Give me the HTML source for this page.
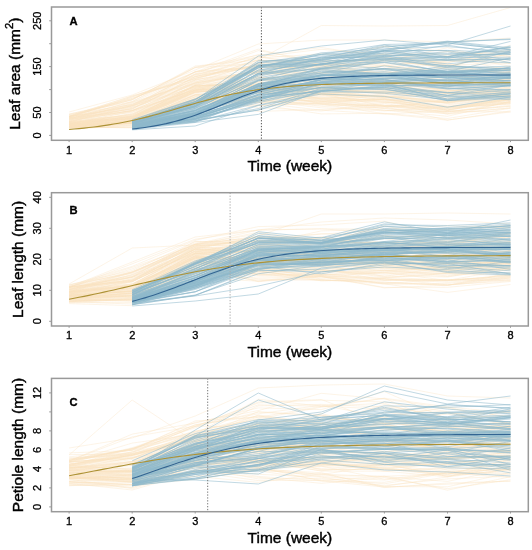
<!DOCTYPE html>
<html><head><meta charset="utf-8"><style>
html,body{margin:0;padding:0;background:#fff;}
svg{display:block;font-family:"Liberation Sans", sans-serif;will-change:transform;}
.t{stroke:#000;stroke-width:0.32px;}
.T{stroke:#000;stroke-width:0.42px;}
</style></head><body>
<svg width="532" height="550" viewBox="0 0 532 550" font-family='"Liberation Sans", sans-serif' fill="#000">
<g fill="none" stroke="rgb(251,225,192)" stroke-opacity="0.42" stroke-width="0.9">
<polyline points="69.1,127.8 132.2,122.8 195.2,96.6 258.3,105.6 321.3,103.5 384.4,99.2 447.5,113.4 510.5,107.9"/>
<polyline points="69.1,125.6 132.2,122.8 195.2,101.3 258.3,96.2 321.3,100.8 384.4,98.6 447.5,110.0 510.5,101.2"/>
<polyline points="69.1,127.4 132.2,122.6 195.2,99.4 258.3,101.9 321.3,94.7 384.4,102.3 447.5,110.0 510.5,96.3"/>
<polyline points="69.1,124.7 132.2,118.8 195.2,91.2 258.3,81.8 321.3,93.0 384.4,91.1 447.5,90.2 510.5,95.7"/>
<polyline points="69.1,124.1 132.2,116.8 195.2,86.0 258.3,83.5 321.3,90.3 384.4,91.4 447.5,91.6 510.5,92.5"/>
<polyline points="69.1,126.8 132.2,123.2 195.2,101.0 258.3,102.6 321.3,99.7 384.4,106.3 447.5,108.3 510.5,98.8"/>
<polyline points="69.1,124.1 132.2,111.1 195.2,90.1 258.3,84.0 321.3,86.5 384.4,80.4 447.5,91.8 510.5,79.3"/>
<polyline points="69.1,125.0 132.2,120.2 195.2,92.7 258.3,85.5 321.3,93.7 384.4,99.9 447.5,102.8 510.5,92.5"/>
<polyline points="69.1,121.5 132.2,117.5 195.2,88.3 258.3,77.8 321.3,82.2 384.4,89.1 447.5,82.1 510.5,87.0"/>
<polyline points="69.1,125.7 132.2,122.5 195.2,98.9 258.3,91.2 321.3,100.2 384.4,99.3 447.5,102.7 510.5,98.0"/>
<polyline points="69.1,125.7 132.2,120.5 195.2,99.0 258.3,93.1 321.3,99.0 384.4,105.5 447.5,104.8 510.5,99.1"/>
<polyline points="69.1,126.7 132.2,122.1 195.2,97.4 258.3,90.1 321.3,94.8 384.4,96.8 447.5,100.7 510.5,101.0"/>
<polyline points="69.1,118.9 132.2,104.0 195.2,80.3 258.3,65.2 321.3,77.8 384.4,68.1 447.5,72.2 510.5,69.9"/>
<polyline points="69.1,127.1 132.2,127.8 195.2,102.3 258.3,100.2 321.3,104.1 384.4,113.7 447.5,120.2 510.5,110.9"/>
<polyline points="69.1,122.7 132.2,117.5 195.2,88.4 258.3,79.0 321.3,87.5 384.4,94.1 447.5,93.1 510.5,88.0"/>
<polyline points="69.1,126.6 132.2,123.0 195.2,99.1 258.3,107.6 321.3,111.0 384.4,103.3 447.5,114.2 510.5,107.9"/>
<polyline points="69.1,116.2 132.2,98.1 195.2,76.3 258.3,64.7 321.3,58.7 384.4,46.3 447.5,51.3 510.5,55.8"/>
<polyline points="69.1,122.5 132.2,116.7 195.2,90.1 258.3,77.2 321.3,87.6 384.4,88.7 447.5,88.5 510.5,84.5"/>
<polyline points="69.1,125.8 132.2,120.8 195.2,96.8 258.3,96.5 321.3,97.4 384.4,101.1 447.5,108.4 510.5,103.7"/>
<polyline points="69.1,126.1 132.2,123.3 195.2,100.7 258.3,98.9 321.3,101.5 384.4,106.4 447.5,111.7 510.5,105.3"/>
<polyline points="69.1,116.5 132.2,107.4 195.2,74.7 258.3,67.9 321.3,67.0 384.4,74.6 447.5,57.4 510.5,70.3"/>
<polyline points="69.1,125.2 132.2,119.0 195.2,91.9 258.3,88.3 321.3,94.3 384.4,92.6 447.5,97.8 510.5,91.9"/>
<polyline points="69.1,124.0 132.2,118.4 195.2,91.1 258.3,85.3 321.3,88.3 384.4,89.7 447.5,92.3 510.5,95.7"/>
<polyline points="69.1,124.9 132.2,121.2 195.2,94.8 258.3,88.8 321.3,93.9 384.4,95.6 447.5,103.7 510.5,99.5"/>
<polyline points="69.1,121.7 132.2,115.0 195.2,85.7 258.3,81.3 321.3,72.6 384.4,84.8 447.5,76.1 510.5,81.2"/>
<polyline points="69.1,124.1 132.2,113.5 195.2,85.2 258.3,85.9 321.3,87.8 384.4,87.6 447.5,85.2 510.5,88.7"/>
<polyline points="69.1,127.1 132.2,122.9 195.2,103.7 258.3,99.0 321.3,106.3 384.4,110.2 447.5,116.3 510.5,101.2"/>
<polyline points="69.1,123.7 132.2,114.2 195.2,86.4 258.3,83.2 321.3,78.0 384.4,78.1 447.5,79.3 510.5,84.8"/>
<polyline points="69.1,122.0 132.2,114.0 195.2,85.0 258.3,73.1 321.3,87.2 384.4,88.7 447.5,85.8 510.5,78.6"/>
<polyline points="69.1,119.4 132.2,105.5 195.2,74.0 258.3,65.6 321.3,66.2 384.4,54.2 447.5,65.0 510.5,69.1"/>
<polyline points="69.1,116.3 132.2,106.7 195.2,71.9 258.3,67.7 321.3,66.7 384.4,63.2 447.5,64.9 510.5,63.6"/>
<polyline points="69.1,127.9 132.2,127.2 195.2,100.2 258.3,111.4 321.3,109.5 384.4,106.8 447.5,120.0 510.5,111.9"/>
<polyline points="69.1,122.1 132.2,105.6 195.2,87.0 258.3,79.7 321.3,69.4 384.4,85.0 447.5,74.5 510.5,82.4"/>
<polyline points="69.1,117.9 132.2,111.3 195.2,81.9 258.3,70.8 321.3,64.6 384.4,74.1 447.5,60.8 510.5,63.2"/>
<polyline points="69.1,116.1 132.2,95.9 195.2,79.0 258.3,60.0 321.3,65.7 384.4,60.1 447.5,51.7 510.5,56.6"/>
<polyline points="69.1,121.3 132.2,107.3 195.2,87.2 258.3,75.8 321.3,67.7 384.4,76.0 447.5,86.8 510.5,71.4"/>
<polyline points="69.1,120.1 132.2,108.7 195.2,79.4 258.3,71.8 321.3,75.1 384.4,79.6 447.5,87.0 510.5,77.6"/>
<polyline points="69.1,116.4 132.2,109.2 195.2,71.4 258.3,66.7 321.3,63.1 384.4,58.8 447.5,69.0 510.5,69.2"/>
<polyline points="69.1,118.0 132.2,105.0 195.2,77.8 258.3,65.8 321.3,73.0 384.4,68.9 447.5,76.2 510.5,80.8"/>
<polyline points="69.1,119.2 132.2,101.5 195.2,71.8 258.3,58.2 321.3,53.8 384.4,57.6 447.5,62.5 510.5,51.6"/>
<polyline points="69.1,123.2 132.2,114.6 195.2,90.5 258.3,84.4 321.3,86.3 384.4,79.0 447.5,91.5 510.5,84.4"/>
<polyline points="69.1,124.1 132.2,118.0 195.2,85.6 258.3,86.3 321.3,88.1 384.4,93.0 447.5,89.9 510.5,92.7"/>
<polyline points="69.1,117.8 132.2,102.5 195.2,73.9 258.3,50.6 321.3,61.3 384.4,60.8 447.5,66.5 510.5,53.4"/>
<polyline points="69.1,125.7 132.2,121.2 195.2,98.4 258.3,88.8 321.3,93.7 384.4,106.2 447.5,108.3 510.5,102.3"/>
<polyline points="69.1,121.2 132.2,110.5 195.2,89.2 258.3,76.3 321.3,87.9 384.4,77.3 447.5,82.2 510.5,83.4"/>
<polyline points="69.1,120.6 132.2,103.2 195.2,81.3 258.3,70.4 321.3,72.3 384.4,65.3 447.5,76.1 510.5,75.1"/>
<polyline points="69.1,124.6 132.2,118.8 195.2,92.2 258.3,86.8 321.3,90.6 384.4,96.6 447.5,94.1 510.5,90.2"/>
<polyline points="69.1,126.0 132.2,121.7 195.2,98.6 258.3,96.7 321.3,98.9 384.4,102.2 447.5,107.2 510.5,100.2"/>
<polyline points="69.1,122.4 132.2,112.0 195.2,89.4 258.3,81.8 321.3,86.3 384.4,83.2 447.5,93.9 510.5,89.5"/>
<polyline points="69.1,124.6 132.2,119.4 195.2,90.0 258.3,84.0 321.3,93.5 384.4,91.2 447.5,90.1 510.5,92.1"/>
<polyline points="69.1,123.3 132.2,118.2 195.2,85.1 258.3,77.2 321.3,78.7 384.4,84.9 447.5,82.6 510.5,88.0"/>
<polyline points="69.1,118.1 132.2,105.6 195.2,79.6 258.3,60.0 321.3,63.7 384.4,65.1 447.5,71.2 510.5,70.2"/>
<polyline points="69.1,118.4 132.2,105.7 195.2,83.2 258.3,71.8 321.3,65.3 384.4,74.9 447.5,77.0 510.5,71.3"/>
<polyline points="69.1,117.5 132.2,96.9 195.2,78.3 258.3,61.6 321.3,68.1 384.4,53.0 447.5,54.8 510.5,66.3"/>
<polyline points="69.1,122.4 132.2,115.3 195.2,80.2 258.3,68.3 321.3,81.2 384.4,73.5 447.5,76.4 510.5,68.7"/>
<polyline points="69.1,126.7 132.2,120.9 195.2,95.2 258.3,102.5 321.3,101.9 384.4,99.2 447.5,107.4 510.5,104.2"/>
<polyline points="69.1,124.3 132.2,121.6 195.2,94.8 258.3,93.1 321.3,94.1 384.4,99.5 447.5,101.6 510.5,93.8"/>
<polyline points="69.1,124.3 132.2,119.1 195.2,91.1 258.3,87.5 321.3,92.4 384.4,97.3 447.5,98.8 510.5,91.9"/>
<polyline points="69.1,125.9 132.2,119.9 195.2,99.1 258.3,97.1 321.3,94.2 384.4,97.8 447.5,106.2 510.5,100.2"/>
<polyline points="69.1,119.2 132.2,116.3 195.2,87.4 258.3,72.5 321.3,78.8 384.4,85.3 447.5,83.0 510.5,71.6"/>
<polyline points="69.1,124.6 132.2,122.9 195.2,95.3 258.3,93.5 321.3,98.5 384.4,102.7 447.5,101.2 510.5,95.3"/>
<polyline points="69.1,127.5 132.2,124.5 195.2,101.1 258.3,100.3 321.3,107.8 384.4,110.9 447.5,107.0 510.5,98.8"/>
<polyline points="69.1,119.3 132.2,110.8 195.2,82.9 258.3,70.5 321.3,81.6 384.4,65.0 447.5,73.0 510.5,79.3"/>
<polyline points="69.1,124.6 132.2,115.9 195.2,92.1 258.3,85.4 321.3,93.7 384.4,89.4 447.5,93.4 510.5,95.6"/>
<polyline points="69.1,126.3 132.2,120.9 195.2,94.7 258.3,91.3 321.3,93.4 384.4,97.4 447.5,102.3 510.5,96.4"/>
<polyline points="69.1,120.9 132.2,110.5 195.2,90.0 258.3,78.3 321.3,87.9 384.4,88.0 447.5,83.3 510.5,81.7"/>
<polyline points="69.1,124.2 132.2,118.1 195.2,89.8 258.3,84.8 321.3,89.4 384.4,84.8 447.5,93.0 510.5,93.8"/>
<polyline points="69.1,120.4 132.2,106.2 195.2,84.2 258.3,71.2 321.3,77.7 384.4,84.7 447.5,79.9 510.5,81.3"/>
<polyline points="69.1,121.4 132.2,108.2 195.2,84.3 258.3,72.4 321.3,78.0 384.4,70.2 447.5,84.8 510.5,73.0"/>
<polyline points="69.1,117.1 132.2,102.1 195.2,83.2 258.3,71.4 321.3,73.2 384.4,59.6 447.5,64.0 510.5,75.6"/>
<polyline points="69.1,119.2 132.2,108.4 195.2,78.2 258.3,65.1 321.3,65.0 384.4,73.6 447.5,66.9 510.5,72.8"/>
<polyline points="69.1,125.0 132.2,116.3 195.2,87.4 258.3,87.4 321.3,88.0 384.4,92.5 447.5,87.7 510.5,91.8"/>
<polyline points="69.1,114.3 132.2,99.0 195.2,72.4 258.3,54.6 321.3,60.2 384.4,61.4 447.5,47.7 510.5,63.3"/>
<polyline points="69.1,125.6 132.2,120.1 195.2,91.8 258.3,90.3 321.3,91.5 384.4,90.5 447.5,98.3 510.5,92.9"/>
<polyline points="69.1,116.8 132.2,99.5 195.2,67.5 258.3,56.9 321.3,64.2 384.4,65.3 447.5,60.9 510.5,59.9"/>
<polyline points="69.1,127.9 132.2,123.3 195.2,104.3 258.3,97.9 321.3,101.3 384.4,108.6 447.5,113.8 510.5,102.1"/>
<polyline points="69.1,126.9 132.2,121.5 195.2,100.1 258.3,90.3 321.3,98.4 384.4,96.8 447.5,100.9 510.5,96.2"/>
<polyline points="69.1,128.1 132.2,123.7 195.2,100.8 258.3,100.1 321.3,104.1 384.4,108.5 447.5,111.5 510.5,106.2"/>
<polyline points="69.1,123.2 132.2,115.9 195.2,86.1 258.3,82.2 321.3,81.5 384.4,80.9 447.5,90.3 510.5,89.9"/>
<polyline points="69.1,122.6 132.2,117.0 195.2,90.8 258.3,85.3 321.3,89.2 384.4,93.6 447.5,96.2 510.5,86.7"/>
<polyline points="69.1,121.8 132.2,110.3 195.2,85.7 258.3,69.1 321.3,80.4 384.4,71.4 447.5,79.8 510.5,78.4"/>
<polyline points="69.1,124.7 132.2,118.0 195.2,94.5 258.3,89.4 321.3,90.7 384.4,96.9 447.5,96.2 510.5,95.8"/>
<polyline points="69.1,127.0 132.2,124.7 195.2,101.4 258.3,90.5 321.3,101.1 384.4,107.7 447.5,99.6 510.5,103.2"/>
<polyline points="69.1,123.5 132.2,119.2 195.2,93.5 258.3,88.3 321.3,93.1 384.4,96.1 447.5,95.4 510.5,90.6"/>
<polyline points="69.1,126.2 132.2,122.8 195.2,101.5 258.3,92.2 321.3,96.5 384.4,101.3 447.5,110.7 510.5,97.8"/>
<polyline points="69.1,124.4 132.2,122.1 195.2,96.4 258.3,85.7 321.3,94.9 384.4,96.0 447.5,102.2 510.5,92.3"/>
<polyline points="69.1,116.2 132.2,96.0 195.2,76.9 258.3,56.9 321.3,49.3 384.4,54.4 447.5,60.4 510.5,50.2"/>
<polyline points="69.1,126.6 132.2,120.5 195.2,99.9 258.3,91.1 321.3,103.3 384.4,106.2 447.5,102.3 510.5,95.7"/>
<polyline points="69.1,124.1 132.2,118.3 195.2,88.6 258.3,90.5 321.3,88.3 384.4,92.2 447.5,92.9 510.5,93.2"/>
<polyline points="69.1,116.3 132.2,98.4 195.2,75.5 258.3,56.6 321.3,67.9 384.4,60.9 447.5,60.0 510.5,57.0"/>
<polyline points="69.1,124.3 132.2,117.3 195.2,92.5 258.3,84.3 321.3,89.2 384.4,93.0 447.5,95.5 510.5,91.2"/>
<polyline points="69.1,116.8 132.2,104.4 195.2,82.4 258.3,63.1 321.3,74.0 384.4,72.4 447.5,74.0 510.5,66.4"/>
<polyline points="69.1,126.4 132.2,121.2 195.2,98.6 258.3,92.4 321.3,97.5 384.4,100.2 447.5,106.5 510.5,102.0"/>
<polyline points="69.1,113.9 132.2,101.6 195.2,67.7 258.3,63.5 321.3,60.9 384.4,59.3 447.5,67.6 510.5,47.6"/>
<polyline points="69.1,123.8 132.2,116.3 195.2,88.1 258.3,79.4 321.3,90.1 384.4,87.2 447.5,83.3 510.5,78.8"/>
<polyline points="69.1,128.0 132.2,126.5 195.2,106.1 258.3,105.7 321.3,102.7 384.4,110.3 447.5,112.5 510.5,102.1"/>
<polyline points="69.1,129.3 132.2,125.3 195.2,107.5 258.3,101.4 321.3,105.1 384.4,106.0 447.5,111.4 510.5,111.9"/>
<polyline points="69.1,117.8 132.2,110.7 195.2,76.7 258.3,65.7 321.3,69.4 384.4,76.3 447.5,67.5 510.5,73.4"/>
<polyline points="69.1,117.3 132.2,97.0 195.2,72.0 258.3,49.1 321.3,64.9 384.4,46.3 447.5,65.9 510.5,53.8"/>
<polyline points="69.1,124.3 132.2,121.2 195.2,92.1 258.3,86.0 321.3,99.0 384.4,94.0 447.5,103.3 510.5,93.6"/>
<polyline points="69.1,126.0 132.2,122.5 195.2,101.1 258.3,92.6 321.3,95.2 384.4,105.0 447.5,110.0 510.5,99.2"/>
<polyline points="69.1,119.1 132.2,112.5 195.2,82.9 258.3,73.6 321.3,68.5 384.4,66.4 447.5,76.0 510.5,79.2"/>
<polyline points="69.1,128.1 132.2,125.6 195.2,100.5 258.3,102.9 321.3,110.2 384.4,114.0 447.5,111.0 510.5,106.4"/>
<polyline points="69.1,122.6 132.2,118.5 195.2,90.1 258.3,85.1 321.3,80.2 384.4,84.1 447.5,93.6 510.5,82.2"/>
<polyline points="69.1,114.6 132.2,104.5 195.2,74.4 258.3,60.4 321.3,61.7 384.4,68.9 447.5,55.0 510.5,50.8"/>
<polyline points="69.1,116.4 132.2,99.7 195.2,67.2 258.3,55.2 321.3,47.5 384.4,57.3 447.5,63.0 510.5,45.2"/>
<polyline points="69.1,127.7 132.2,122.9 195.2,98.5 258.3,90.8 321.3,104.2 384.4,105.5 447.5,107.0 510.5,103.3"/>
<polyline points="69.1,127.0 132.2,121.5 195.2,100.4 258.3,97.4 321.3,102.4 384.4,98.5 447.5,109.8 510.5,99.6"/>
<polyline points="69.1,127.2 132.2,127.6 195.2,100.7 258.3,104.4 321.3,113.9 384.4,113.3 447.5,118.5 510.5,108.2"/>
<polyline points="69.1,118.3 132.2,109.4 195.2,76.6 258.3,64.1 321.3,70.5 384.4,56.1 447.5,69.2 510.5,72.6"/>
<polyline points="69.1,115.0 132.2,100.0 195.2,66.0 258.3,60.0 321.3,25.5 384.4,26.0 447.5,25.5 510.5,7.5"/>
<polyline points="69.1,112.0 132.2,95.0 195.2,70.0 258.3,44.0 321.3,40.0 384.4,40.0 447.5,42.0 510.5,38.0"/>
</g>
<g fill="none" stroke="rgb(142,184,204)" stroke-opacity="0.72" stroke-width="0.75">
<polyline points="132.2,129.9 195.2,126.0 258.3,105.5 321.3,94.0 384.4,96.4 447.5,107.2 510.5,96.9"/>
<polyline points="132.2,122.7 195.2,107.1 258.3,73.4 321.3,64.5 384.4,52.5 447.5,60.2 510.5,59.0"/>
<polyline points="132.2,125.7 195.2,114.5 258.3,97.9 321.3,81.7 384.4,82.7 447.5,85.5 510.5,83.3"/>
<polyline points="132.2,125.5 195.2,112.9 258.3,88.4 321.3,77.6 384.4,77.9 447.5,79.8 510.5,76.0"/>
<polyline points="132.2,126.0 195.2,114.8 258.3,92.8 321.3,82.9 384.4,78.3 447.5,80.5 510.5,84.2"/>
<polyline points="132.2,126.5 195.2,114.1 258.3,94.4 321.3,79.5 384.4,74.8 447.5,75.9 510.5,80.9"/>
<polyline points="132.2,126.0 195.2,113.3 258.3,92.3 321.3,79.7 384.4,75.5 447.5,76.4 510.5,78.1"/>
<polyline points="132.2,127.5 195.2,118.8 258.3,102.7 321.3,89.4 384.4,87.4 447.5,99.0 510.5,91.6"/>
<polyline points="132.2,127.5 195.2,116.9 258.3,94.2 321.3,81.9 384.4,75.7 447.5,77.4 510.5,83.2"/>
<polyline points="132.2,127.3 195.2,119.2 258.3,100.2 321.3,83.6 384.4,85.6 447.5,85.0 510.5,90.8"/>
<polyline points="132.2,128.4 195.2,120.0 258.3,110.2 321.3,92.1 384.4,92.0 447.5,96.8 510.5,99.7"/>
<polyline points="132.2,124.7 195.2,113.8 258.3,83.5 321.3,75.2 384.4,73.2 447.5,73.5 510.5,74.0"/>
<polyline points="132.2,123.6 195.2,106.7 258.3,74.3 321.3,63.9 384.4,62.0 447.5,59.5 510.5,59.3"/>
<polyline points="132.2,126.4 195.2,116.1 258.3,86.5 321.3,77.6 384.4,76.6 447.5,84.0 510.5,80.6"/>
<polyline points="132.2,125.5 195.2,113.9 258.3,85.9 321.3,79.1 384.4,76.5 447.5,75.2 510.5,78.3"/>
<polyline points="132.2,127.1 195.2,119.5 258.3,100.2 321.3,82.9 384.4,86.0 447.5,84.6 510.5,84.3"/>
<polyline points="132.2,127.3 195.2,118.7 258.3,101.1 321.3,90.6 384.4,89.1 447.5,100.7 510.5,93.4"/>
<polyline points="132.2,128.3 195.2,119.6 258.3,101.5 321.3,87.1 384.4,89.7 447.5,95.1 510.5,89.4"/>
<polyline points="132.2,121.9 195.2,103.2 258.3,68.1 321.3,60.6 384.4,50.8 447.5,41.9 510.5,39.5"/>
<polyline points="132.2,125.7 195.2,109.4 258.3,86.7 321.3,69.0 384.4,74.0 447.5,69.4 510.5,74.0"/>
<polyline points="132.2,123.2 195.2,103.9 258.3,65.9 321.3,61.0 384.4,59.6 447.5,56.6 510.5,46.9"/>
<polyline points="132.2,121.5 195.2,101.7 258.3,65.7 321.3,59.5 384.4,47.2 447.5,41.6 510.5,49.3"/>
<polyline points="132.2,124.5 195.2,110.6 258.3,84.1 321.3,72.8 384.4,69.5 447.5,77.6 510.5,74.6"/>
<polyline points="132.2,119.6 195.2,99.0 258.3,66.3 321.3,57.2 384.4,46.3 447.5,43.1 510.5,49.7"/>
<polyline points="132.2,125.4 195.2,113.9 258.3,84.1 321.3,77.2 384.4,75.7 447.5,67.7 510.5,72.6"/>
<polyline points="132.2,123.5 195.2,110.6 258.3,84.1 321.3,68.1 384.4,69.8 447.5,72.8 510.5,67.3"/>
<polyline points="132.2,125.5 195.2,113.3 258.3,85.5 321.3,77.9 384.4,74.9 447.5,76.3 510.5,77.6"/>
<polyline points="132.2,126.2 195.2,115.4 258.3,90.1 321.3,75.5 384.4,75.7 447.5,73.4 510.5,75.1"/>
<polyline points="132.2,120.3 195.2,99.2 258.3,67.8 321.3,54.3 384.4,44.5 447.5,43.0 510.5,49.9"/>
<polyline points="132.2,125.6 195.2,112.9 258.3,92.0 321.3,80.1 384.4,78.5 447.5,82.5 510.5,78.1"/>
<polyline points="132.2,128.0 195.2,122.1 258.3,98.4 321.3,84.2 384.4,83.8 447.5,100.4 510.5,95.6"/>
<polyline points="132.2,128.4 195.2,118.4 258.3,95.0 321.3,87.9 384.4,87.8 447.5,92.8 510.5,85.3"/>
<polyline points="132.2,126.0 195.2,114.1 258.3,91.4 321.3,75.2 384.4,74.0 447.5,71.4 510.5,77.5"/>
<polyline points="132.2,127.4 195.2,120.9 258.3,108.6 321.3,88.2 384.4,88.6 447.5,100.6 510.5,98.1"/>
<polyline points="132.2,125.8 195.2,114.3 258.3,87.0 321.3,82.8 384.4,78.2 447.5,77.4 510.5,80.9"/>
<polyline points="132.2,128.9 195.2,121.3 258.3,98.9 321.3,90.4 384.4,82.2 447.5,88.0 510.5,92.5"/>
<polyline points="132.2,126.7 195.2,115.4 258.3,88.5 321.3,84.1 384.4,80.9 447.5,86.8 510.5,76.8"/>
<polyline points="132.2,121.2 195.2,103.4 258.3,60.7 321.3,59.9 384.4,49.3 447.5,41.1 510.5,47.8"/>
<polyline points="132.2,121.1 195.2,102.1 258.3,65.9 321.3,62.5 384.4,51.0 447.5,50.4 510.5,52.5"/>
<polyline points="132.2,125.7 195.2,115.1 258.3,90.7 321.3,81.6 384.4,75.5 447.5,83.9 510.5,74.7"/>
<polyline points="132.2,122.6 195.2,107.4 258.3,80.2 321.3,63.8 384.4,57.6 447.5,67.9 510.5,66.2"/>
<polyline points="132.2,128.2 195.2,117.1 258.3,98.4 321.3,87.4 384.4,84.2 447.5,88.6 510.5,89.7"/>
<polyline points="132.2,129.5 195.2,122.5 258.3,114.4 321.3,90.6 384.4,93.3 447.5,99.6 510.5,94.2"/>
<polyline points="132.2,124.1 195.2,112.1 258.3,80.7 321.3,76.3 384.4,65.9 447.5,73.1 510.5,70.3"/>
<polyline points="132.2,124.5 195.2,105.8 258.3,75.0 321.3,63.4 384.4,59.1 447.5,65.7 510.5,69.4"/>
<polyline points="132.2,123.6 195.2,105.3 258.3,66.5 321.3,64.5 384.4,55.4 447.5,66.9 510.5,51.1"/>
<polyline points="132.2,126.5 195.2,115.4 258.3,88.2 321.3,75.4 384.4,76.5 447.5,72.0 510.5,76.3"/>
<polyline points="132.2,125.2 195.2,109.9 258.3,84.5 321.3,70.9 384.4,74.6 447.5,72.2 510.5,68.2"/>
<polyline points="132.2,121.4 195.2,99.7 258.3,62.3 321.3,55.9 384.4,54.8 447.5,45.2 510.5,54.6"/>
<polyline points="132.2,122.5 195.2,101.3 258.3,64.5 321.3,64.7 384.4,51.3 447.5,57.6 510.5,52.9"/>
<polyline points="132.2,123.3 195.2,106.7 258.3,76.2 321.3,64.1 384.4,68.7 447.5,72.0 510.5,68.5"/>
<polyline points="132.2,125.7 195.2,111.9 258.3,86.3 321.3,78.5 384.4,75.3 447.5,71.6 510.5,76.6"/>
<polyline points="132.2,125.8 195.2,117.5 258.3,94.3 321.3,82.1 384.4,80.9 447.5,80.4 510.5,77.2"/>
<polyline points="132.2,126.9 195.2,119.3 258.3,96.6 321.3,83.6 384.4,82.8 447.5,86.0 510.5,85.5"/>
<polyline points="132.2,121.1 195.2,103.2 258.3,67.7 321.3,52.8 384.4,48.9 447.5,46.6 510.5,51.7"/>
<polyline points="132.2,120.8 195.2,104.0 258.3,66.1 321.3,60.3 384.4,50.3 447.5,42.2 510.5,38.9"/>
<polyline points="132.2,121.2 195.2,103.6 258.3,66.6 321.3,54.5 384.4,53.6 447.5,56.4 510.5,52.9"/>
<polyline points="132.2,125.1 195.2,114.8 258.3,88.7 321.3,75.2 384.4,75.2 447.5,71.9 510.5,76.0"/>
<polyline points="132.2,127.4 195.2,118.2 258.3,97.5 321.3,91.4 384.4,85.9 447.5,95.5 510.5,97.9"/>
<polyline points="132.2,121.7 195.2,101.7 258.3,62.6 321.3,54.1 384.4,50.9 447.5,58.7 510.5,46.0"/>
<polyline points="132.2,125.1 195.2,113.1 258.3,84.1 321.3,75.8 384.4,75.3 447.5,80.9 510.5,78.2"/>
<polyline points="132.2,123.7 195.2,108.3 258.3,79.9 321.3,74.7 384.4,68.5 447.5,71.5 510.5,57.8"/>
<polyline points="132.2,123.2 195.2,106.1 258.3,77.8 321.3,67.2 384.4,56.3 447.5,51.8 510.5,62.6"/>
<polyline points="132.2,127.6 195.2,122.0 258.3,105.1 321.3,91.6 384.4,85.2 447.5,92.4 510.5,93.7"/>
<polyline points="132.2,125.9 195.2,113.3 258.3,87.4 321.3,82.6 384.4,74.9 447.5,84.8 510.5,84.9"/>
<polyline points="132.2,122.9 195.2,108.3 258.3,73.2 321.3,58.7 384.4,50.7 447.5,54.3 510.5,54.5"/>
<polyline points="132.2,125.1 195.2,113.0 258.3,80.3 321.3,69.1 384.4,62.6 447.5,71.9 510.5,73.3"/>
<polyline points="132.2,123.9 195.2,111.2 258.3,85.4 321.3,71.4 384.4,74.6 447.5,65.7 510.5,71.2"/>
<polyline points="132.2,122.5 195.2,102.8 258.3,65.4 321.3,57.7 384.4,56.1 447.5,53.7 510.5,50.7"/>
<polyline points="132.2,124.2 195.2,108.8 258.3,78.9 321.3,73.0 384.4,60.4 447.5,72.4 510.5,69.8"/>
<polyline points="132.2,123.2 195.2,105.2 258.3,73.4 321.3,68.4 384.4,58.9 447.5,60.6 510.5,62.8"/>
<polyline points="132.2,125.3 195.2,114.1 258.3,85.2 321.3,75.6 384.4,74.6 447.5,74.3 510.5,75.7"/>
<polyline points="132.2,123.5 195.2,106.7 258.3,67.4 321.3,65.5 384.4,50.6 447.5,50.6 510.5,60.3"/>
<polyline points="132.2,121.3 195.2,104.0 258.3,71.4 321.3,61.6 384.4,58.2 447.5,57.5 510.5,57.2"/>
<polyline points="132.2,125.7 195.2,114.4 258.3,90.4 321.3,82.8 384.4,82.0 447.5,82.0 510.5,80.3"/>
<polyline points="132.2,126.5 195.2,118.7 258.3,95.3 321.3,84.6 384.4,79.4 447.5,86.3 510.5,83.2"/>
<polyline points="132.2,126.6 195.2,116.2 258.3,95.4 321.3,87.3 384.4,82.9 447.5,95.6 510.5,85.1"/>
<polyline points="132.2,124.6 195.2,112.4 258.3,86.1 321.3,68.3 384.4,62.1 447.5,71.3 510.5,70.3"/>
<polyline points="132.2,123.3 195.2,106.0 258.3,69.9 321.3,64.1 384.4,56.5 447.5,60.0 510.5,53.0"/>
<polyline points="132.2,125.3 195.2,115.0 258.3,92.0 321.3,79.8 384.4,73.8 447.5,81.7 510.5,74.4"/>
<polyline points="132.2,126.7 195.2,115.0 258.3,88.7 321.3,75.0 384.4,72.9 447.5,83.5 510.5,83.0"/>
<polyline points="132.2,126.5 195.2,116.7 258.3,99.2 321.3,78.6 384.4,79.7 447.5,89.2 510.5,85.6"/>
<polyline points="132.2,121.6 195.2,101.9 258.3,63.1 321.3,58.3 384.4,45.0 447.5,56.9 510.5,47.6"/>
<polyline points="132.2,122.8 195.2,110.5 258.3,74.7 321.3,68.8 384.4,60.1 447.5,66.0 510.5,68.8"/>
<polyline points="132.2,125.1 195.2,110.4 258.3,86.3 321.3,73.3 384.4,68.4 447.5,78.5 510.5,78.8"/>
<polyline points="132.2,127.8 195.2,116.6 258.3,100.1 321.3,79.8 384.4,79.5 447.5,88.2 510.5,85.8"/>
<polyline points="132.2,125.6 195.2,111.0 258.3,81.0 321.3,69.9 384.4,74.6 447.5,70.1 510.5,73.5"/>
<polyline points="132.2,126.0 195.2,113.9 258.3,86.4 321.3,74.6 384.4,71.6 447.5,78.5 510.5,67.0"/>
<polyline points="132.2,127.8 195.2,118.1 258.3,97.4 321.3,91.2 384.4,86.4 447.5,92.8 510.5,97.0"/>
<polyline points="132.2,120.9 195.2,106.0 258.3,70.2 321.3,59.2 384.4,55.2 447.5,56.9 510.5,41.4"/>
<polyline points="132.2,127.5 195.2,120.8 258.3,98.4 321.3,85.3 384.4,84.6 447.5,99.2 510.5,96.1"/>
<polyline points="132.2,125.6 195.2,113.0 258.3,88.9 321.3,78.3 384.4,80.9 447.5,76.9 510.5,82.1"/>
<polyline points="132.2,122.6 195.2,104.6 258.3,73.8 321.3,57.1 384.4,57.9 447.5,63.8 510.5,58.5"/>
<polyline points="132.2,126.1 195.2,116.0 258.3,97.1 321.3,79.8 384.4,81.6 447.5,79.7 510.5,86.3"/>
<polyline points="132.2,128.2 195.2,120.8 258.3,109.9 321.3,91.0 384.4,87.3 447.5,96.8 510.5,94.1"/>
<polyline points="132.2,124.0 195.2,100.0 258.3,56.0 321.3,46.0 384.4,40.0 447.5,45.0 510.5,26.0"/>
</g>
<path d="M69.1,129.44 L74.1,129.04 L79.0,128.59 L84.0,128.11 L88.9,127.57 L93.9,126.98 L98.9,126.34 L103.8,125.65 L108.8,124.89 L113.7,124.08 L118.7,123.20 L123.7,122.26 L128.6,121.25 L133.6,120.18 L138.5,119.04 L143.5,117.85 L148.5,116.60 L153.4,115.30 L158.4,113.96 L163.3,112.58 L168.3,111.16 L173.3,109.73 L178.2,108.28 L183.2,106.84 L188.1,105.39 L193.1,103.97 L198.1,102.57 L203.0,101.20 L208.0,99.88 L212.9,98.60 L217.9,97.38 L222.9,96.21 L227.8,95.11 L232.8,94.06 L237.7,93.09 L242.7,92.17 L247.7,91.32 L252.6,90.53 L257.6,89.81 L262.5,89.14 L267.5,88.52 L272.5,87.96 L277.4,87.45 L282.4,86.98 L287.3,86.55 L292.3,86.17 L297.2,85.82 L302.2,85.51 L307.2,85.22 L312.1,84.97 L317.1,84.74 L322.0,84.53 L327.0,84.34 L332.0,84.18 L336.9,84.03 L341.9,83.89 L346.8,83.77 L351.8,83.66 L356.8,83.57 L361.7,83.48 L366.7,83.40 L371.6,83.34 L376.6,83.27 L381.6,83.22 L386.5,83.17 L391.5,83.13 L396.4,83.09 L401.4,83.05 L406.4,83.02 L411.3,82.99 L416.3,82.97 L421.2,82.95 L426.2,82.93 L431.2,82.91 L436.1,82.89 L441.1,82.88 L446.0,82.87 L451.0,82.86 L456.0,82.85 L460.9,82.84 L465.9,82.83 L470.8,82.82 L475.8,82.82 L480.8,82.81 L485.7,82.81 L490.7,82.80 L495.6,82.80 L500.6,82.79 L505.6,82.79 L510.5,82.79" fill="none" stroke="#ad9235" stroke-width="1.1"/>
<path d="M132.2,129.05 L136.4,128.58 L140.7,128.05 L144.9,127.47 L149.2,126.83 L153.4,126.13 L157.7,125.36 L161.9,124.52 L166.2,123.60 L170.4,122.60 L174.7,121.52 L178.9,120.37 L183.2,119.12 L187.4,117.80 L191.7,116.40 L195.9,114.93 L200.2,113.38 L204.4,111.78 L208.7,110.12 L212.9,108.42 L217.2,106.69 L221.4,104.93 L225.7,103.17 L229.9,101.42 L234.2,99.68 L238.4,97.98 L242.7,96.32 L246.9,94.71 L251.2,93.16 L255.4,91.68 L259.7,90.27 L263.9,88.94 L268.2,87.69 L272.5,86.53 L276.7,85.44 L281.0,84.44 L285.2,83.52 L289.5,82.67 L293.7,81.89 L298.0,81.18 L302.2,80.54 L306.5,79.95 L310.7,79.43 L315.0,78.95 L319.2,78.52 L323.5,78.13 L327.7,77.79 L332.0,77.48 L336.2,77.20 L340.5,76.95 L344.7,76.73 L349.0,76.53 L353.2,76.35 L357.5,76.19 L361.7,76.05 L366.0,75.93 L370.2,75.82 L374.5,75.72 L378.7,75.63 L383.0,75.55 L387.2,75.48 L391.5,75.42 L395.7,75.37 L400.0,75.32 L404.2,75.27 L408.5,75.24 L412.7,75.20 L417.0,75.17 L421.2,75.15 L425.5,75.12 L429.7,75.10 L434.0,75.08 L438.2,75.07 L442.5,75.05 L446.8,75.04 L451.0,75.03 L455.3,75.02 L459.5,75.01 L463.8,75.00 L468.0,74.99 L472.3,74.99 L476.5,74.98 L480.8,74.98 L485.0,74.97 L489.3,74.97 L493.5,74.97 L497.8,74.96 L502.0,74.96 L506.3,74.96 L510.5,74.96" fill="none" stroke="#336592" stroke-width="1.1"/>
<line x1="261.4" y1="7.0" x2="261.4" y2="140.3" stroke="#555" stroke-width="1" stroke-dasharray="1.3 1.6"/>
<rect x="51.5" y="7.0" width="476.79999999999995" height="133.3" fill="none" stroke="#999" stroke-width="1.5"/>
<line x1="49.2" y1="135.4" x2="51.5" y2="135.4" stroke="#999" stroke-width="1"/>
<text transform="translate(41.3,135.4) rotate(-90)" text-anchor="middle" font-size="11" class="t">0</text>
<line x1="49.2" y1="112.5" x2="51.5" y2="112.5" stroke="#999" stroke-width="1"/>
<text transform="translate(41.3,112.5) rotate(-90)" text-anchor="middle" font-size="11" class="t">50</text>
<line x1="49.2" y1="89.6" x2="51.5" y2="89.6" stroke="#999" stroke-width="1"/>
<line x1="49.2" y1="66.6" x2="51.5" y2="66.6" stroke="#999" stroke-width="1"/>
<text transform="translate(41.3,66.6) rotate(-90)" text-anchor="middle" font-size="11" class="t">150</text>
<line x1="49.2" y1="43.7" x2="51.5" y2="43.7" stroke="#999" stroke-width="1"/>
<line x1="49.2" y1="20.8" x2="51.5" y2="20.8" stroke="#999" stroke-width="1"/>
<text transform="translate(41.3,20.8) rotate(-90)" text-anchor="middle" font-size="11" class="t">250</text>
<line x1="69.1" y1="140.3" x2="69.1" y2="142.10000000000002" stroke="#999" stroke-width="1"/>
<text x="69.1" y="153.7" text-anchor="middle" font-size="11" class="t">1</text>
<line x1="132.2" y1="140.3" x2="132.2" y2="142.10000000000002" stroke="#999" stroke-width="1"/>
<text x="132.2" y="153.7" text-anchor="middle" font-size="11" class="t">2</text>
<line x1="195.2" y1="140.3" x2="195.2" y2="142.10000000000002" stroke="#999" stroke-width="1"/>
<text x="195.2" y="153.7" text-anchor="middle" font-size="11" class="t">3</text>
<line x1="258.3" y1="140.3" x2="258.3" y2="142.10000000000002" stroke="#999" stroke-width="1"/>
<text x="258.3" y="153.7" text-anchor="middle" font-size="11" class="t">4</text>
<line x1="321.3" y1="140.3" x2="321.3" y2="142.10000000000002" stroke="#999" stroke-width="1"/>
<text x="321.3" y="153.7" text-anchor="middle" font-size="11" class="t">5</text>
<line x1="384.4" y1="140.3" x2="384.4" y2="142.10000000000002" stroke="#999" stroke-width="1"/>
<text x="384.4" y="153.7" text-anchor="middle" font-size="11" class="t">6</text>
<line x1="447.5" y1="140.3" x2="447.5" y2="142.10000000000002" stroke="#999" stroke-width="1"/>
<text x="447.5" y="153.7" text-anchor="middle" font-size="11" class="t">7</text>
<line x1="510.5" y1="140.3" x2="510.5" y2="142.10000000000002" stroke="#999" stroke-width="1"/>
<text x="510.5" y="153.7" text-anchor="middle" font-size="11" class="t">8</text>
<text x="289.9" y="171.2" text-anchor="middle" font-size="15.5" class="T">Time (week)</text>
<text x="69.5" y="24.8" font-size="11.2" font-weight="bold" class="t">A</text>
<text transform="translate(20.2,73.7) rotate(-90)" text-anchor="middle" font-size="15.5" class="T">Leaf area (mm<tspan font-size="11.3" dy="-7.3">2</tspan><tspan dy="7.3">)</tspan></text>
<g fill="none" stroke="rgb(251,225,192)" stroke-opacity="0.42" stroke-width="0.9">
<polyline points="69.1,291.2 132.2,277.0 195.2,249.1 258.3,236.7 321.3,240.5 384.4,243.5 447.5,244.5 510.5,248.6"/>
<polyline points="69.1,301.4 132.2,298.7 195.2,267.1 258.3,281.2 321.3,273.5 384.4,278.8 447.5,282.3 510.5,277.2"/>
<polyline points="69.1,295.9 132.2,289.6 195.2,257.7 258.3,262.0 321.3,264.1 384.4,261.6 447.5,263.7 510.5,262.1"/>
<polyline points="69.1,295.3 132.2,293.5 195.2,263.5 258.3,261.3 321.3,261.8 384.4,266.5 447.5,272.4 510.5,268.2"/>
<polyline points="69.1,299.7 132.2,295.9 195.2,268.9 258.3,270.7 321.3,279.8 384.4,282.2 447.5,285.1 510.5,276.4"/>
<polyline points="69.1,294.5 132.2,291.4 195.2,259.0 258.3,256.5 321.3,258.1 384.4,262.0 447.5,259.5 510.5,262.2"/>
<polyline points="69.1,294.0 132.2,286.3 195.2,254.1 258.3,247.7 321.3,254.4 384.4,251.5 447.5,249.3 510.5,251.3"/>
<polyline points="69.1,299.4 132.2,301.4 195.2,275.7 258.3,271.8 321.3,277.0 384.4,283.3 447.5,280.0 510.5,280.0"/>
<polyline points="69.1,292.7 132.2,286.0 195.2,248.8 258.3,252.2 321.3,246.0 384.4,243.4 447.5,242.3 510.5,253.6"/>
<polyline points="69.1,296.8 132.2,292.6 195.2,261.7 258.3,263.9 321.3,261.6 384.4,265.3 447.5,269.6 510.5,261.4"/>
<polyline points="69.1,295.0 132.2,290.8 195.2,257.4 258.3,259.0 321.3,263.0 384.4,263.8 447.5,263.8 510.5,261.4"/>
<polyline points="69.1,291.9 132.2,280.0 195.2,249.2 258.3,248.5 321.3,256.4 384.4,242.9 447.5,252.0 510.5,241.9"/>
<polyline points="69.1,297.9 132.2,293.4 195.2,258.6 258.3,265.9 321.3,262.1 384.4,263.9 447.5,267.8 510.5,262.2"/>
<polyline points="69.1,297.3 132.2,293.4 195.2,260.4 258.3,264.1 321.3,271.1 384.4,266.9 447.5,267.8 510.5,266.2"/>
<polyline points="69.1,287.6 132.2,276.9 195.2,241.2 258.3,244.8 321.3,230.9 384.4,229.2 447.5,245.3 510.5,233.9"/>
<polyline points="69.1,291.8 132.2,287.0 195.2,256.9 258.3,255.7 321.3,254.7 384.4,260.8 447.5,263.4 510.5,258.3"/>
<polyline points="69.1,295.2 132.2,291.5 195.2,256.3 258.3,259.9 321.3,262.1 384.4,261.7 447.5,266.6 510.5,260.3"/>
<polyline points="69.1,296.9 132.2,290.1 195.2,257.4 258.3,260.4 321.3,261.5 384.4,262.3 447.5,268.4 510.5,261.2"/>
<polyline points="69.1,299.5 132.2,300.6 195.2,275.4 258.3,278.0 321.3,276.7 384.4,278.8 447.5,284.8 510.5,280.9"/>
<polyline points="69.1,292.8 132.2,278.7 195.2,253.3 258.3,245.6 321.3,253.6 384.4,255.8 447.5,245.8 510.5,254.3"/>
<polyline points="69.1,298.8 132.2,294.5 195.2,262.9 258.3,265.5 321.3,274.8 384.4,273.2 447.5,276.5 510.5,268.5"/>
<polyline points="69.1,294.2 132.2,282.0 195.2,251.3 258.3,255.3 321.3,249.7 384.4,251.3 447.5,252.4 510.5,259.0"/>
<polyline points="69.1,284.7 132.2,270.5 195.2,241.5 258.3,241.7 321.3,243.2 384.4,225.7 447.5,240.1 510.5,227.3"/>
<polyline points="69.1,292.3 132.2,287.5 195.2,255.7 258.3,258.6 321.3,251.7 384.4,261.9 447.5,263.1 510.5,258.9"/>
<polyline points="69.1,284.9 132.2,273.3 195.2,242.8 258.3,238.2 321.3,233.8 384.4,235.9 447.5,237.5 510.5,233.5"/>
<polyline points="69.1,301.3 132.2,300.4 195.2,269.4 258.3,269.4 321.3,275.8 384.4,278.8 447.5,281.0 510.5,274.7"/>
<polyline points="69.1,286.4 132.2,276.1 195.2,244.0 258.3,230.1 321.3,228.9 384.4,229.1 447.5,225.8 510.5,227.3"/>
<polyline points="69.1,291.8 132.2,286.8 195.2,257.7 258.3,257.8 321.3,250.9 384.4,251.6 447.5,255.2 510.5,254.5"/>
<polyline points="69.1,301.0 132.2,298.9 195.2,271.2 258.3,276.1 321.3,276.6 384.4,287.9 447.5,285.2 510.5,279.5"/>
<polyline points="69.1,287.5 132.2,276.9 195.2,245.7 258.3,245.0 321.3,237.4 384.4,242.4 447.5,247.1 510.5,243.5"/>
<polyline points="69.1,298.2 132.2,295.5 195.2,267.6 258.3,271.7 321.3,272.8 384.4,270.0 447.5,274.2 510.5,272.3"/>
<polyline points="69.1,289.4 132.2,272.0 195.2,244.2 258.3,242.8 321.3,248.4 384.4,245.2 447.5,246.0 510.5,242.6"/>
<polyline points="69.1,286.8 132.2,280.2 195.2,244.5 258.3,240.7 321.3,243.4 384.4,237.5 447.5,235.2 510.5,248.1"/>
<polyline points="69.1,300.7 132.2,298.3 195.2,271.1 258.3,266.7 321.3,279.1 384.4,277.7 447.5,273.6 510.5,268.6"/>
<polyline points="69.1,288.5 132.2,281.4 195.2,251.4 258.3,242.0 321.3,254.0 384.4,249.8 447.5,243.2 510.5,240.1"/>
<polyline points="69.1,295.1 132.2,291.1 195.2,259.4 258.3,258.4 321.3,262.4 384.4,262.7 447.5,260.3 510.5,258.3"/>
<polyline points="69.1,298.2 132.2,292.7 195.2,262.2 258.3,267.0 321.3,271.4 384.4,264.9 447.5,269.3 510.5,264.7"/>
<polyline points="69.1,291.5 132.2,285.6 195.2,253.7 258.3,250.1 321.3,243.0 384.4,250.8 447.5,245.1 510.5,250.5"/>
<polyline points="69.1,287.0 132.2,280.4 195.2,249.7 258.3,246.5 321.3,241.4 384.4,238.8 447.5,244.1 510.5,247.2"/>
<polyline points="69.1,289.5 132.2,275.2 195.2,247.1 258.3,250.8 321.3,250.1 384.4,253.0 447.5,250.1 510.5,254.5"/>
<polyline points="69.1,293.3 132.2,284.1 195.2,250.7 258.3,253.4 321.3,255.0 384.4,247.4 447.5,251.9 510.5,247.4"/>
<polyline points="69.1,301.8 132.2,299.0 195.2,272.7 258.3,275.0 321.3,275.5 384.4,284.1 447.5,283.4 510.5,278.0"/>
<polyline points="69.1,287.8 132.2,263.8 195.2,239.2 258.3,230.0 321.3,228.8 384.4,233.3 447.5,228.8 510.5,225.0"/>
<polyline points="69.1,296.4 132.2,296.3 195.2,262.3 258.3,265.6 321.3,264.8 384.4,268.7 447.5,271.4 510.5,263.3"/>
<polyline points="69.1,294.6 132.2,288.5 195.2,256.0 258.3,259.0 321.3,255.4 384.4,260.6 447.5,262.9 510.5,257.3"/>
<polyline points="69.1,295.8 132.2,291.2 195.2,262.7 258.3,257.6 321.3,266.5 384.4,264.8 447.5,263.4 510.5,261.7"/>
<polyline points="69.1,292.9 132.2,285.4 195.2,258.3 258.3,259.1 321.3,258.8 384.4,251.3 447.5,255.2 510.5,257.0"/>
<polyline points="69.1,288.5 132.2,272.2 195.2,245.9 258.3,241.2 321.3,234.0 384.4,230.4 447.5,241.9 510.5,233.9"/>
<polyline points="69.1,297.3 132.2,293.0 195.2,265.8 258.3,260.6 321.3,266.4 384.4,270.4 447.5,266.3 510.5,265.6"/>
<polyline points="69.1,297.2 132.2,290.9 195.2,263.5 258.3,259.4 321.3,269.5 384.4,267.2 447.5,266.6 510.5,261.1"/>
<polyline points="69.1,287.1 132.2,268.9 195.2,244.4 258.3,236.7 321.3,238.9 384.4,230.2 447.5,229.4 510.5,227.1"/>
<polyline points="69.1,302.5 132.2,299.3 195.2,273.7 258.3,280.0 321.3,280.0 384.4,282.3 447.5,285.3 510.5,273.1"/>
<polyline points="69.1,291.6 132.2,289.9 195.2,254.9 258.3,251.2 321.3,255.5 384.4,257.5 447.5,255.0 510.5,253.8"/>
<polyline points="69.1,291.5 132.2,272.7 195.2,247.1 258.3,239.6 321.3,251.6 384.4,250.4 447.5,241.8 510.5,236.6"/>
<polyline points="69.1,291.7 132.2,277.4 195.2,252.7 258.3,246.6 321.3,253.6 384.4,257.9 447.5,246.0 510.5,242.9"/>
<polyline points="69.1,291.9 132.2,283.6 195.2,253.1 258.3,258.7 321.3,253.9 384.4,253.2 447.5,264.8 510.5,252.5"/>
<polyline points="69.1,289.9 132.2,279.0 195.2,248.3 258.3,245.3 321.3,236.6 384.4,248.0 447.5,248.0 510.5,244.0"/>
<polyline points="69.1,298.7 132.2,295.9 195.2,261.7 258.3,261.3 321.3,264.8 384.4,276.4 447.5,266.7 510.5,269.5"/>
<polyline points="69.1,301.6 132.2,304.1 195.2,277.7 258.3,281.2 321.3,276.4 384.4,283.4 447.5,285.0 510.5,278.1"/>
<polyline points="69.1,291.3 132.2,285.5 195.2,256.2 258.3,250.3 321.3,257.5 384.4,250.9 447.5,261.6 510.5,250.7"/>
<polyline points="69.1,299.1 132.2,292.9 195.2,267.0 258.3,269.7 321.3,270.1 384.4,274.2 447.5,272.5 510.5,264.6"/>
<polyline points="69.1,290.2 132.2,272.4 195.2,248.3 258.3,236.8 321.3,247.6 384.4,248.8 447.5,245.6 510.5,233.5"/>
<polyline points="69.1,291.7 132.2,274.3 195.2,245.5 258.3,240.5 321.3,243.7 384.4,235.3 447.5,242.5 510.5,250.2"/>
<polyline points="69.1,287.7 132.2,277.5 195.2,251.0 258.3,247.8 321.3,237.6 384.4,246.5 447.5,240.2 510.5,242.5"/>
<polyline points="69.1,289.6 132.2,274.8 195.2,246.4 258.3,238.1 321.3,243.3 384.4,242.8 447.5,244.5 510.5,232.6"/>
<polyline points="69.1,286.2 132.2,272.0 195.2,244.0 258.3,234.0 321.3,242.8 384.4,242.3 447.5,242.6 510.5,231.0"/>
<polyline points="69.1,287.0 132.2,271.6 195.2,245.9 258.3,245.6 321.3,244.7 384.4,246.1 447.5,247.6 510.5,246.9"/>
<polyline points="69.1,290.7 132.2,285.5 195.2,254.6 258.3,252.4 321.3,255.0 384.4,250.9 447.5,252.8 510.5,256.4"/>
<polyline points="69.1,289.5 132.2,281.2 195.2,252.2 258.3,240.9 321.3,243.0 384.4,242.4 447.5,249.7 510.5,248.5"/>
<polyline points="69.1,301.4 132.2,295.6 195.2,271.0 258.3,270.0 321.3,275.1 384.4,272.3 447.5,280.5 510.5,275.1"/>
<polyline points="69.1,290.7 132.2,286.7 195.2,254.1 258.3,257.7 321.3,251.4 384.4,260.4 447.5,257.5 510.5,258.9"/>
<polyline points="69.1,293.6 132.2,291.0 195.2,256.2 258.3,259.1 321.3,262.9 384.4,255.6 447.5,262.4 510.5,259.3"/>
<polyline points="69.1,296.3 132.2,291.3 195.2,263.0 258.3,262.3 321.3,264.6 384.4,267.7 447.5,270.1 510.5,264.4"/>
<polyline points="69.1,286.8 132.2,267.4 195.2,244.8 258.3,232.3 321.3,240.8 384.4,242.9 447.5,238.2 510.5,237.4"/>
<polyline points="69.1,295.8 132.2,289.0 195.2,258.7 258.3,261.8 321.3,263.9 384.4,262.6 447.5,263.9 510.5,263.9"/>
<polyline points="69.1,288.7 132.2,279.7 195.2,249.5 258.3,252.2 321.3,247.1 384.4,250.0 447.5,253.2 510.5,248.7"/>
<polyline points="69.1,295.4 132.2,291.7 195.2,257.3 258.3,262.9 321.3,259.4 384.4,263.6 447.5,264.0 510.5,261.9"/>
<polyline points="69.1,298.3 132.2,293.3 195.2,262.3 258.3,274.5 321.3,274.6 384.4,270.2 447.5,275.8 510.5,266.4"/>
<polyline points="69.1,295.1 132.2,286.7 195.2,255.7 258.3,259.6 321.3,259.9 384.4,257.9 447.5,259.6 510.5,255.6"/>
<polyline points="69.1,298.5 132.2,293.9 195.2,262.3 258.3,266.4 321.3,263.3 384.4,265.0 447.5,270.3 510.5,268.3"/>
<polyline points="69.1,301.3 132.2,299.9 195.2,270.8 258.3,273.7 321.3,274.2 384.4,280.3 447.5,279.6 510.5,277.8"/>
<polyline points="69.1,290.1 132.2,284.1 195.2,253.1 258.3,250.3 321.3,254.1 384.4,251.7 447.5,248.0 510.5,241.4"/>
<polyline points="69.1,296.2 132.2,295.2 195.2,264.5 258.3,265.3 321.3,267.8 384.4,272.4 447.5,266.2 510.5,263.2"/>
<polyline points="69.1,296.3 132.2,288.2 195.2,261.3 258.3,263.4 321.3,264.4 384.4,263.3 447.5,264.7 510.5,260.8"/>
<polyline points="69.1,303.6 132.2,305.7 195.2,268.6 258.3,279.0 321.3,279.9 384.4,283.9 447.5,292.4 510.5,284.5"/>
<polyline points="69.1,300.8 132.2,299.3 195.2,270.4 258.3,269.3 321.3,268.9 384.4,280.2 447.5,280.0 510.5,276.2"/>
<polyline points="69.1,292.9 132.2,285.0 195.2,248.8 258.3,251.2 321.3,255.7 384.4,249.5 447.5,247.0 510.5,244.2"/>
<polyline points="69.1,296.3 132.2,290.9 195.2,260.3 258.3,268.7 321.3,271.2 384.4,272.8 447.5,271.1 510.5,262.7"/>
<polyline points="69.1,300.4 132.2,297.7 195.2,268.2 258.3,270.6 321.3,280.7 384.4,280.2 447.5,280.6 510.5,275.9"/>
<polyline points="69.1,295.0 132.2,291.8 195.2,260.2 258.3,258.6 321.3,263.5 384.4,258.6 447.5,262.8 510.5,261.4"/>
<polyline points="69.1,293.8 132.2,285.1 195.2,255.8 258.3,250.3 321.3,254.7 384.4,254.3 447.5,257.5 510.5,247.2"/>
<polyline points="69.1,293.9 132.2,288.7 195.2,258.0 258.3,257.5 321.3,260.8 384.4,263.4 447.5,267.8 510.5,262.3"/>
<polyline points="69.1,294.7 132.2,284.1 195.2,258.0 258.3,253.3 321.3,253.2 384.4,262.9 447.5,253.5 510.5,251.2"/>
<polyline points="69.1,298.4 132.2,297.5 195.2,274.1 258.3,273.4 321.3,280.8 384.4,279.0 447.5,279.9 510.5,280.3"/>
<polyline points="69.1,302.7 132.2,302.6 195.2,266.8 258.3,281.7 321.3,276.3 384.4,287.4 447.5,287.3 510.5,281.5"/>
<polyline points="69.1,287.5 132.2,280.5 195.2,247.6 258.3,247.8 321.3,246.3 384.4,235.9 447.5,246.6 510.5,236.3"/>
<polyline points="69.1,292.0 132.2,288.3 195.2,253.7 258.3,250.8 321.3,260.6 384.4,259.5 447.5,257.3 510.5,258.7"/>
<polyline points="69.1,285.5 132.2,266.4 195.2,240.2 258.3,226.6 321.3,225.0 384.4,221.1 447.5,237.6 510.5,229.8"/>
<polyline points="69.1,299.9 132.2,294.8 195.2,270.5 258.3,272.9 321.3,269.4 384.4,277.1 447.5,280.4 510.5,269.0"/>
<polyline points="69.1,298.4 132.2,297.5 195.2,265.9 258.3,271.5 321.3,278.1 384.4,271.4 447.5,273.7 510.5,275.5"/>
<polyline points="69.1,293.0 132.2,288.2 195.2,252.9 258.3,256.2 321.3,257.1 384.4,255.5 447.5,259.3 510.5,258.0"/>
<polyline points="69.1,287.0 132.2,281.4 195.2,247.1 258.3,241.6 321.3,240.2 384.4,247.4 447.5,241.3 510.5,241.3"/>
<polyline points="69.1,292.4 132.2,281.7 195.2,251.6 258.3,247.7 321.3,255.4 384.4,260.7 447.5,250.9 510.5,254.2"/>
<polyline points="69.1,299.2 132.2,295.5 195.2,265.5 258.3,263.8 321.3,270.3 384.4,275.9 447.5,277.0 510.5,267.0"/>
<polyline points="69.1,294.1 132.2,280.7 195.2,253.3 258.3,250.1 321.3,255.6 384.4,251.7 447.5,256.9 510.5,250.8"/>
<polyline points="69.1,289.9 132.2,276.8 195.2,249.3 258.3,251.7 321.3,247.5 384.4,250.6 447.5,252.5 510.5,237.1"/>
<polyline points="69.1,297.6 132.2,296.1 195.2,262.7 258.3,262.1 321.3,264.1 384.4,268.2 447.5,270.3 510.5,267.0"/>
<polyline points="69.1,292.5 132.2,281.6 195.2,250.7 258.3,251.8 321.3,255.5 384.4,249.1 447.5,247.0 510.5,246.7"/>
<polyline points="69.1,299.3 132.2,299.5 195.2,263.7 258.3,275.0 321.3,275.5 384.4,277.4 447.5,273.1 510.5,270.4"/>
<polyline points="69.1,295.5 132.2,296.2 195.2,264.5 258.3,269.0 321.3,267.2 384.4,270.6 447.5,269.0 510.5,263.1"/>
<polyline points="69.1,284.0 132.2,248.0 195.2,245.0 258.3,236.0 321.3,214.0 384.4,214.0 447.5,213.0 510.5,214.0"/>
<polyline points="69.1,287.0 132.2,262.0 195.2,237.0 258.3,230.0 321.3,222.0 384.4,218.0 447.5,220.0 510.5,224.0"/>
</g>
<g fill="none" stroke="rgb(142,184,204)" stroke-opacity="0.72" stroke-width="0.75">
<polyline points="132.2,304.6 195.2,286.8 258.3,268.2 321.3,266.4 384.4,257.1 447.5,261.7 510.5,259.5"/>
<polyline points="132.2,297.3 195.2,280.0 258.3,255.6 321.3,252.0 384.4,245.7 447.5,244.7 510.5,248.8"/>
<polyline points="132.2,298.5 195.2,279.3 258.3,254.0 321.3,249.2 384.4,251.1 447.5,247.0 510.5,246.6"/>
<polyline points="132.2,303.1 195.2,286.8 258.3,263.8 321.3,263.5 384.4,260.3 447.5,258.5 510.5,257.1"/>
<polyline points="132.2,300.4 195.2,282.1 258.3,252.9 321.3,256.7 384.4,251.0 447.5,248.1 510.5,249.5"/>
<polyline points="132.2,300.1 195.2,281.5 258.3,260.0 321.3,253.6 384.4,252.4 447.5,252.5 510.5,254.3"/>
<polyline points="132.2,298.2 195.2,278.1 258.3,254.9 321.3,251.9 384.4,244.8 447.5,245.3 510.5,245.6"/>
<polyline points="132.2,301.6 195.2,285.2 258.3,261.3 321.3,258.3 384.4,256.9 447.5,262.1 510.5,259.8"/>
<polyline points="132.2,292.6 195.2,263.6 258.3,243.6 321.3,243.6 384.4,232.0 447.5,238.6 510.5,232.4"/>
<polyline points="132.2,299.5 195.2,281.6 258.3,255.3 321.3,251.1 384.4,249.4 447.5,250.3 510.5,249.3"/>
<polyline points="132.2,295.0 195.2,263.5 258.3,237.8 321.3,243.7 384.4,230.9 447.5,230.8 510.5,232.6"/>
<polyline points="132.2,302.2 195.2,291.8 258.3,263.7 321.3,265.4 384.4,261.2 447.5,255.8 510.5,261.4"/>
<polyline points="132.2,297.9 195.2,276.7 258.3,245.8 321.3,249.3 384.4,238.5 447.5,238.0 510.5,242.2"/>
<polyline points="132.2,296.6 195.2,281.1 258.3,248.5 321.3,249.1 384.4,242.2 447.5,247.5 510.5,246.4"/>
<polyline points="132.2,302.5 195.2,289.5 258.3,269.1 321.3,264.0 384.4,257.0 447.5,263.5 510.5,266.9"/>
<polyline points="132.2,291.5 195.2,266.7 258.3,242.3 321.3,242.6 384.4,229.9 447.5,233.0 510.5,227.4"/>
<polyline points="132.2,300.7 195.2,284.3 258.3,258.3 321.3,254.6 384.4,250.4 447.5,249.2 510.5,256.0"/>
<polyline points="132.2,304.8 195.2,288.7 258.3,266.0 321.3,273.8 384.4,263.2 447.5,263.5 510.5,274.1"/>
<polyline points="132.2,294.4 195.2,265.9 258.3,242.7 321.3,240.9 384.4,233.1 447.5,228.9 510.5,230.1"/>
<polyline points="132.2,292.7 195.2,262.5 258.3,238.4 321.3,240.2 384.4,224.8 447.5,225.5 510.5,222.9"/>
<polyline points="132.2,289.7 195.2,260.9 258.3,241.5 321.3,242.6 384.4,228.4 447.5,230.7 510.5,230.6"/>
<polyline points="132.2,304.7 195.2,295.3 258.3,270.1 321.3,271.8 384.4,267.0 447.5,269.7 510.5,274.5"/>
<polyline points="132.2,300.3 195.2,280.1 258.3,254.0 321.3,256.2 384.4,248.0 447.5,249.5 510.5,254.5"/>
<polyline points="132.2,304.7 195.2,295.5 258.3,270.8 321.3,269.1 384.4,262.2 447.5,272.5 510.5,275.0"/>
<polyline points="132.2,295.0 195.2,263.8 258.3,238.3 321.3,243.3 384.4,233.5 447.5,231.2 510.5,228.1"/>
<polyline points="132.2,297.6 195.2,272.6 258.3,251.9 321.3,247.9 384.4,237.7 447.5,244.2 510.5,243.5"/>
<polyline points="132.2,298.5 195.2,280.5 258.3,254.0 321.3,251.7 384.4,250.6 447.5,247.3 510.5,247.9"/>
<polyline points="132.2,290.4 195.2,266.7 258.3,240.1 321.3,242.3 384.4,229.5 447.5,233.1 510.5,231.3"/>
<polyline points="132.2,301.7 195.2,282.4 258.3,254.9 321.3,256.4 384.4,254.6 447.5,250.9 510.5,248.6"/>
<polyline points="132.2,302.7 195.2,285.4 258.3,268.0 321.3,265.1 384.4,256.7 447.5,258.7 510.5,258.5"/>
<polyline points="132.2,302.6 195.2,288.4 258.3,268.6 321.3,257.5 384.4,259.0 447.5,256.4 510.5,257.1"/>
<polyline points="132.2,301.9 195.2,286.8 258.3,259.6 321.3,256.8 384.4,255.0 447.5,251.3 510.5,252.4"/>
<polyline points="132.2,299.4 195.2,278.0 258.3,256.1 321.3,250.3 384.4,248.9 447.5,246.6 510.5,243.6"/>
<polyline points="132.2,301.9 195.2,284.7 258.3,264.8 321.3,261.4 384.4,259.1 447.5,257.3 510.5,263.1"/>
<polyline points="132.2,300.0 195.2,284.5 258.3,263.2 321.3,256.0 384.4,248.7 447.5,256.6 510.5,253.0"/>
<polyline points="132.2,290.2 195.2,268.6 258.3,242.6 321.3,242.7 384.4,230.7 447.5,228.3 510.5,233.3"/>
<polyline points="132.2,299.8 195.2,282.2 258.3,255.7 321.3,255.7 384.4,249.9 447.5,253.0 510.5,253.5"/>
<polyline points="132.2,303.9 195.2,295.0 258.3,273.8 321.3,265.2 384.4,263.0 447.5,271.5 510.5,273.0"/>
<polyline points="132.2,300.2 195.2,285.7 258.3,258.4 321.3,259.1 384.4,255.0 447.5,248.9 510.5,257.6"/>
<polyline points="132.2,296.5 195.2,278.2 258.3,247.3 321.3,246.2 384.4,246.2 447.5,236.0 510.5,240.1"/>
<polyline points="132.2,297.3 195.2,271.6 258.3,250.8 321.3,246.8 384.4,242.1 447.5,238.8 510.5,236.1"/>
<polyline points="132.2,296.2 195.2,271.5 258.3,244.6 321.3,247.1 384.4,241.5 447.5,234.2 510.5,239.2"/>
<polyline points="132.2,301.9 195.2,285.9 258.3,263.6 321.3,252.3 384.4,250.4 447.5,256.9 510.5,255.0"/>
<polyline points="132.2,291.0 195.2,264.3 258.3,241.5 321.3,242.6 384.4,234.8 447.5,233.5 510.5,234.0"/>
<polyline points="132.2,299.8 195.2,281.2 258.3,256.6 321.3,250.8 384.4,247.8 447.5,250.2 510.5,246.8"/>
<polyline points="132.2,300.7 195.2,283.6 258.3,264.8 321.3,264.5 384.4,256.2 447.5,255.6 510.5,262.2"/>
<polyline points="132.2,302.4 195.2,284.3 258.3,260.5 321.3,260.8 384.4,255.1 447.5,257.6 510.5,262.4"/>
<polyline points="132.2,296.5 195.2,275.8 258.3,251.1 321.3,250.3 384.4,247.0 447.5,246.9 510.5,242.2"/>
<polyline points="132.2,299.3 195.2,280.3 258.3,252.7 321.3,253.1 384.4,249.9 447.5,248.1 510.5,248.6"/>
<polyline points="132.2,298.7 195.2,271.7 258.3,248.0 321.3,250.4 384.4,242.6 447.5,239.0 510.5,244.6"/>
<polyline points="132.2,294.7 195.2,275.7 258.3,250.1 321.3,246.7 384.4,235.1 447.5,235.4 510.5,239.8"/>
<polyline points="132.2,302.4 195.2,288.4 258.3,263.2 321.3,254.9 384.4,252.9 447.5,253.6 510.5,262.4"/>
<polyline points="132.2,303.2 195.2,291.9 258.3,267.1 321.3,262.1 384.4,259.7 447.5,268.7 510.5,261.5"/>
<polyline points="132.2,294.9 195.2,268.3 258.3,246.6 321.3,243.4 384.4,231.7 447.5,236.0 510.5,229.1"/>
<polyline points="132.2,300.2 195.2,283.5 258.3,260.2 321.3,262.7 384.4,253.9 447.5,251.1 510.5,255.5"/>
<polyline points="132.2,291.0 195.2,263.6 258.3,235.6 321.3,240.8 384.4,232.2 447.5,233.8 510.5,229.7"/>
<polyline points="132.2,302.5 195.2,285.4 258.3,262.6 321.3,262.9 384.4,258.8 447.5,261.3 510.5,261.2"/>
<polyline points="132.2,294.1 195.2,269.0 258.3,237.4 321.3,243.0 384.4,229.1 447.5,232.6 510.5,233.0"/>
<polyline points="132.2,301.5 195.2,283.3 258.3,265.0 321.3,262.4 384.4,253.1 447.5,261.0 510.5,252.2"/>
<polyline points="132.2,292.6 195.2,270.7 258.3,244.7 321.3,243.2 384.4,238.5 447.5,233.7 510.5,234.8"/>
<polyline points="132.2,298.5 195.2,277.5 258.3,252.7 321.3,248.3 384.4,242.4 447.5,247.2 510.5,238.4"/>
<polyline points="132.2,292.0 195.2,264.7 258.3,238.1 321.3,237.7 384.4,221.9 447.5,233.0 510.5,220.0"/>
<polyline points="132.2,297.8 195.2,275.3 258.3,250.1 321.3,246.9 384.4,236.7 447.5,237.5 510.5,240.5"/>
<polyline points="132.2,299.0 195.2,283.4 258.3,257.7 321.3,250.5 384.4,249.8 447.5,246.3 510.5,251.8"/>
<polyline points="132.2,302.2 195.2,283.3 258.3,263.4 321.3,257.3 384.4,254.3 447.5,250.8 510.5,256.0"/>
<polyline points="132.2,300.2 195.2,282.7 258.3,254.0 321.3,255.5 384.4,252.4 447.5,246.1 510.5,255.2"/>
<polyline points="132.2,294.9 195.2,269.2 258.3,240.2 321.3,241.8 384.4,232.1 447.5,235.0 510.5,235.4"/>
<polyline points="132.2,299.2 195.2,283.2 258.3,258.4 321.3,253.5 384.4,248.5 447.5,248.8 510.5,253.9"/>
<polyline points="132.2,296.0 195.2,275.8 258.3,250.5 321.3,245.5 384.4,236.2 447.5,242.5 510.5,232.8"/>
<polyline points="132.2,298.0 195.2,274.0 258.3,252.7 321.3,246.8 384.4,243.3 447.5,243.9 510.5,244.6"/>
<polyline points="132.2,302.5 195.2,287.5 258.3,265.7 321.3,263.0 384.4,258.3 447.5,267.5 510.5,273.3"/>
<polyline points="132.2,293.9 195.2,270.7 258.3,248.1 321.3,244.6 384.4,232.6 447.5,230.5 510.5,236.9"/>
<polyline points="132.2,295.2 195.2,273.0 258.3,249.3 321.3,245.9 384.4,237.2 447.5,235.4 510.5,232.2"/>
<polyline points="132.2,300.1 195.2,280.5 258.3,256.6 321.3,251.9 384.4,243.8 447.5,244.0 510.5,244.8"/>
<polyline points="132.2,303.3 195.2,285.6 258.3,263.1 321.3,264.9 384.4,261.8 447.5,265.6 510.5,265.5"/>
<polyline points="132.2,293.3 195.2,270.1 258.3,249.0 321.3,244.5 384.4,238.7 447.5,237.7 510.5,236.1"/>
<polyline points="132.2,302.4 195.2,291.7 258.3,269.2 321.3,261.2 384.4,260.4 447.5,259.5 510.5,269.5"/>
<polyline points="132.2,291.1 195.2,261.8 258.3,235.9 321.3,243.1 384.4,226.2 447.5,229.3 510.5,225.6"/>
<polyline points="132.2,296.4 195.2,273.7 258.3,249.4 321.3,247.5 384.4,233.3 447.5,234.7 510.5,236.2"/>
<polyline points="132.2,301.0 195.2,285.7 258.3,263.5 321.3,260.6 384.4,251.9 447.5,252.5 510.5,260.3"/>
<polyline points="132.2,302.8 195.2,287.8 258.3,269.8 321.3,258.8 384.4,253.3 447.5,262.6 510.5,265.7"/>
<polyline points="132.2,298.1 195.2,282.1 258.3,250.3 321.3,252.6 384.4,246.2 447.5,250.3 510.5,247.2"/>
<polyline points="132.2,299.6 195.2,280.6 258.3,259.2 321.3,253.7 384.4,248.6 447.5,246.4 510.5,249.8"/>
<polyline points="132.2,298.7 195.2,282.6 258.3,259.9 321.3,257.0 384.4,250.4 447.5,248.6 510.5,246.9"/>
<polyline points="132.2,292.8 195.2,263.4 258.3,243.1 321.3,242.4 384.4,231.3 447.5,228.2 510.5,226.7"/>
<polyline points="132.2,302.7 195.2,287.0 258.3,261.5 321.3,254.6 384.4,254.3 447.5,250.8 510.5,255.6"/>
<polyline points="132.2,292.4 195.2,262.6 258.3,238.6 321.3,240.0 384.4,223.8 447.5,227.3 510.5,224.3"/>
<polyline points="132.2,298.6 195.2,277.6 258.3,251.8 321.3,249.8 384.4,241.8 447.5,242.3 510.5,245.7"/>
<polyline points="132.2,293.9 195.2,262.9 258.3,233.4 321.3,240.3 384.4,232.5 447.5,232.0 510.5,225.4"/>
<polyline points="132.2,292.7 195.2,264.4 258.3,231.7 321.3,238.1 384.4,226.6 447.5,229.5 510.5,225.9"/>
<polyline points="132.2,298.4 195.2,278.1 258.3,250.0 321.3,246.5 384.4,244.3 447.5,239.8 510.5,244.7"/>
<polyline points="132.2,301.4 195.2,285.2 258.3,260.2 321.3,259.2 384.4,255.1 447.5,258.6 510.5,252.3"/>
<polyline points="132.2,302.0 195.2,286.6 258.3,265.0 321.3,262.4 384.4,260.3 447.5,266.7 510.5,270.8"/>
<polyline points="132.2,299.8 195.2,281.5 258.3,259.2 321.3,259.9 384.4,253.0 447.5,248.8 510.5,249.8"/>
<polyline points="132.2,297.8 195.2,279.9 258.3,249.4 321.3,253.2 384.4,248.5 447.5,241.4 510.5,242.8"/>
<polyline points="132.2,306.0 195.2,301.0 258.3,294.0 321.3,268.0 384.4,262.0 447.5,265.0 510.5,268.0"/>
<polyline points="132.2,303.0 195.2,296.0 258.3,286.0 321.3,272.0 384.4,265.0 447.5,262.0 510.5,266.0"/>
</g>
<path d="M69.1,299.19 L74.1,298.27 L79.0,297.33 L84.0,296.35 L88.9,295.34 L93.9,294.31 L98.9,293.25 L103.8,292.16 L108.8,291.05 L113.7,289.93 L118.7,288.79 L123.7,287.64 L128.6,286.49 L133.6,285.32 L138.5,284.16 L143.5,283.00 L148.5,281.85 L153.4,280.70 L158.4,279.57 L163.3,278.45 L168.3,277.36 L173.3,276.29 L178.2,275.24 L183.2,274.22 L188.1,273.22 L193.1,272.26 L198.1,271.33 L203.0,270.44 L208.0,269.57 L212.9,268.75 L217.9,267.95 L222.9,267.20 L227.8,266.47 L232.8,265.79 L237.7,265.14 L242.7,264.52 L247.7,263.93 L252.6,263.38 L257.6,262.85 L262.5,262.36 L267.5,261.90 L272.5,261.46 L277.4,261.05 L282.4,260.67 L287.3,260.31 L292.3,259.97 L297.2,259.65 L302.2,259.36 L307.2,259.08 L312.1,258.83 L317.1,258.59 L322.0,258.36 L327.0,258.16 L332.0,257.96 L336.9,257.78 L341.9,257.61 L346.8,257.46 L351.8,257.31 L356.8,257.18 L361.7,257.05 L366.7,256.94 L371.6,256.83 L376.6,256.73 L381.6,256.64 L386.5,256.55 L391.5,256.47 L396.4,256.40 L401.4,256.33 L406.4,256.27 L411.3,256.21 L416.3,256.16 L421.2,256.11 L426.2,256.06 L431.2,256.02 L436.1,255.98 L441.1,255.94 L446.0,255.91 L451.0,255.87 L456.0,255.85 L460.9,255.82 L465.9,255.79 L470.8,255.77 L475.8,255.75 L480.8,255.73 L485.7,255.71 L490.7,255.69 L495.6,255.68 L500.6,255.66 L505.6,255.65 L510.5,255.64" fill="none" stroke="#ad9235" stroke-width="1.1"/>
<path d="M132.2,301.36 L136.4,300.25 L140.7,299.09 L144.9,297.86 L149.2,296.56 L153.4,295.21 L157.7,293.81 L161.9,292.35 L166.2,290.84 L170.4,289.29 L174.7,287.71 L178.9,286.09 L183.2,284.45 L187.4,282.80 L191.7,281.13 L195.9,279.47 L200.2,277.82 L204.4,276.18 L208.7,274.57 L212.9,272.99 L217.2,271.44 L221.4,269.94 L225.7,268.49 L229.9,267.09 L234.2,265.75 L238.4,264.46 L242.7,263.24 L246.9,262.08 L251.2,260.98 L255.4,259.94 L259.7,258.97 L263.9,258.06 L268.2,257.20 L272.5,256.41 L276.7,255.67 L281.0,254.98 L285.2,254.34 L289.5,253.76 L293.7,253.21 L298.0,252.71 L302.2,252.25 L306.5,251.83 L310.7,251.44 L315.0,251.08 L319.2,250.75 L323.5,250.45 L327.7,250.18 L332.0,249.93 L336.2,249.70 L340.5,249.49 L344.7,249.30 L349.0,249.13 L353.2,248.97 L357.5,248.83 L361.7,248.70 L366.0,248.58 L370.2,248.47 L374.5,248.37 L378.7,248.28 L383.0,248.20 L387.2,248.13 L391.5,248.06 L395.7,248.00 L400.0,247.94 L404.2,247.89 L408.5,247.85 L412.7,247.81 L417.0,247.77 L421.2,247.73 L425.5,247.70 L429.7,247.68 L434.0,247.65 L438.2,247.63 L442.5,247.61 L446.8,247.59 L451.0,247.57 L455.3,247.55 L459.5,247.54 L463.8,247.53 L468.0,247.52 L472.3,247.51 L476.5,247.50 L480.8,247.49 L485.0,247.48 L489.3,247.47 L493.5,247.47 L497.8,247.46 L502.0,247.45 L506.3,247.45 L510.5,247.45" fill="none" stroke="#336592" stroke-width="1.1"/>
<line x1="230.1" y1="192.7" x2="230.1" y2="326.0" stroke="#aaa" stroke-width="1" stroke-dasharray="1.3 1.6"/>
<rect x="51.5" y="192.7" width="476.79999999999995" height="133.3" fill="none" stroke="#999" stroke-width="1.5"/>
<line x1="49.2" y1="321.3" x2="51.5" y2="321.3" stroke="#999" stroke-width="1"/>
<text transform="translate(41.3,321.3) rotate(-90)" text-anchor="middle" font-size="11" class="t">0</text>
<line x1="49.2" y1="290.3" x2="51.5" y2="290.3" stroke="#999" stroke-width="1"/>
<text transform="translate(41.3,290.3) rotate(-90)" text-anchor="middle" font-size="11" class="t">10</text>
<line x1="49.2" y1="259.3" x2="51.5" y2="259.3" stroke="#999" stroke-width="1"/>
<text transform="translate(41.3,259.3) rotate(-90)" text-anchor="middle" font-size="11" class="t">20</text>
<line x1="49.2" y1="228.3" x2="51.5" y2="228.3" stroke="#999" stroke-width="1"/>
<text transform="translate(41.3,228.3) rotate(-90)" text-anchor="middle" font-size="11" class="t">30</text>
<line x1="49.2" y1="197.3" x2="51.5" y2="197.3" stroke="#999" stroke-width="1"/>
<text transform="translate(41.3,197.3) rotate(-90)" text-anchor="middle" font-size="11" class="t">40</text>
<line x1="69.1" y1="326.0" x2="69.1" y2="327.8" stroke="#999" stroke-width="1"/>
<text x="69.1" y="339.4" text-anchor="middle" font-size="11" class="t">1</text>
<line x1="132.2" y1="326.0" x2="132.2" y2="327.8" stroke="#999" stroke-width="1"/>
<text x="132.2" y="339.4" text-anchor="middle" font-size="11" class="t">2</text>
<line x1="195.2" y1="326.0" x2="195.2" y2="327.8" stroke="#999" stroke-width="1"/>
<text x="195.2" y="339.4" text-anchor="middle" font-size="11" class="t">3</text>
<line x1="258.3" y1="326.0" x2="258.3" y2="327.8" stroke="#999" stroke-width="1"/>
<text x="258.3" y="339.4" text-anchor="middle" font-size="11" class="t">4</text>
<line x1="321.3" y1="326.0" x2="321.3" y2="327.8" stroke="#999" stroke-width="1"/>
<text x="321.3" y="339.4" text-anchor="middle" font-size="11" class="t">5</text>
<line x1="384.4" y1="326.0" x2="384.4" y2="327.8" stroke="#999" stroke-width="1"/>
<text x="384.4" y="339.4" text-anchor="middle" font-size="11" class="t">6</text>
<line x1="447.5" y1="326.0" x2="447.5" y2="327.8" stroke="#999" stroke-width="1"/>
<text x="447.5" y="339.4" text-anchor="middle" font-size="11" class="t">7</text>
<line x1="510.5" y1="326.0" x2="510.5" y2="327.8" stroke="#999" stroke-width="1"/>
<text x="510.5" y="339.4" text-anchor="middle" font-size="11" class="t">8</text>
<text x="289.9" y="356.9" text-anchor="middle" font-size="15.5" class="T">Time (week)</text>
<text x="69.5" y="214.1" font-size="11.2" font-weight="bold" class="t">B</text>
<text transform="translate(23.2,259.4) rotate(-90)" text-anchor="middle" font-size="15.5" class="T">Leaf length (mm)</text>
<g fill="none" stroke="rgb(251,225,192)" stroke-opacity="0.42" stroke-width="0.9">
<polyline points="69.1,475.5 132.2,478.3 195.2,456.1 258.3,461.7 321.3,461.3 384.4,459.8 447.5,457.2 510.5,458.4"/>
<polyline points="69.1,479.4 132.2,481.4 195.2,457.2 258.3,460.4 321.3,471.1 384.4,471.2 447.5,467.7 510.5,469.9"/>
<polyline points="69.1,460.5 132.2,453.0 195.2,426.1 258.3,427.3 321.3,413.6 384.4,428.3 447.5,433.5 510.5,423.0"/>
<polyline points="69.1,470.3 132.2,470.1 195.2,450.2 258.3,451.1 321.3,441.7 384.4,445.9 447.5,443.6 510.5,441.7"/>
<polyline points="69.1,479.1 132.2,488.7 195.2,470.0 258.3,468.5 321.3,476.8 384.4,480.0 447.5,473.0 510.5,477.4"/>
<polyline points="69.1,470.1 132.2,461.5 195.2,446.1 258.3,440.9 321.3,428.6 384.4,434.6 447.5,444.0 510.5,447.5"/>
<polyline points="69.1,476.5 132.2,475.4 195.2,461.7 258.3,461.6 321.3,470.8 384.4,464.0 447.5,464.6 510.5,464.5"/>
<polyline points="69.1,482.6 132.2,481.3 195.2,472.5 258.3,470.8 321.3,479.9 384.4,485.4 447.5,478.9 510.5,476.1"/>
<polyline points="69.1,467.7 132.2,462.1 195.2,445.4 258.3,438.6 321.3,450.6 384.4,438.5 447.5,442.1 510.5,451.1"/>
<polyline points="69.1,482.9 132.2,481.7 195.2,472.3 258.3,470.5 321.3,474.1 384.4,476.7 447.5,481.4 510.5,468.4"/>
<polyline points="69.1,462.8 132.2,447.7 195.2,426.6 258.3,402.0 321.3,399.5 384.4,423.5 447.5,413.7 510.5,412.6"/>
<polyline points="69.1,461.8 132.2,449.6 195.2,433.5 258.3,429.7 321.3,415.1 384.4,425.2 447.5,431.1 510.5,425.8"/>
<polyline points="69.1,466.4 132.2,455.4 195.2,437.4 258.3,415.0 321.3,423.4 384.4,437.8 447.5,431.6 510.5,434.0"/>
<polyline points="69.1,472.3 132.2,471.5 195.2,446.7 258.3,445.8 321.3,442.4 384.4,452.4 447.5,440.7 510.5,444.7"/>
<polyline points="69.1,467.9 132.2,465.7 195.2,448.9 258.3,449.8 321.3,442.9 384.4,451.2 447.5,450.8 510.5,451.8"/>
<polyline points="69.1,477.7 132.2,476.6 195.2,458.0 258.3,465.2 321.3,464.7 384.4,467.4 447.5,476.1 510.5,469.4"/>
<polyline points="69.1,466.2 132.2,455.1 195.2,441.7 258.3,425.9 321.3,439.0 384.4,429.7 447.5,430.2 510.5,438.4"/>
<polyline points="69.1,459.1 132.2,450.1 195.2,420.9 258.3,417.3 321.3,406.4 384.4,398.2 447.5,406.9 510.5,423.6"/>
<polyline points="69.1,475.8 132.2,482.2 195.2,461.7 258.3,466.5 321.3,464.3 384.4,468.2 447.5,474.2 510.5,459.8"/>
<polyline points="69.1,474.7 132.2,475.0 195.2,460.8 258.3,451.1 321.3,453.5 384.4,456.6 447.5,460.2 510.5,451.8"/>
<polyline points="69.1,467.8 132.2,454.6 195.2,439.4 258.3,436.2 321.3,424.3 384.4,428.4 447.5,435.4 510.5,440.6"/>
<polyline points="69.1,477.2 132.2,481.4 195.2,472.2 258.3,469.1 321.3,466.1 384.4,479.2 447.5,472.2 510.5,473.6"/>
<polyline points="69.1,474.1 132.2,479.0 195.2,453.5 258.3,463.2 321.3,468.4 384.4,465.1 447.5,457.8 510.5,458.8"/>
<polyline points="69.1,452.9 132.2,450.5 195.2,434.1 258.3,399.3 321.3,406.1 384.4,409.2 447.5,426.1 510.5,426.5"/>
<polyline points="69.1,454.6 132.2,453.9 195.2,435.2 258.3,405.9 321.3,404.4 384.4,407.0 447.5,412.3 510.5,426.5"/>
<polyline points="69.1,460.6 132.2,449.1 195.2,422.4 258.3,410.6 321.3,393.3 384.4,399.0 447.5,408.3 510.5,416.9"/>
<polyline points="69.1,469.0 132.2,461.4 195.2,444.4 258.3,447.4 321.3,443.5 384.4,444.7 447.5,441.3 510.5,439.1"/>
<polyline points="69.1,477.2 132.2,478.5 195.2,465.5 258.3,456.7 321.3,469.9 384.4,469.0 447.5,475.4 510.5,466.9"/>
<polyline points="69.1,465.6 132.2,455.0 195.2,438.7 258.3,411.5 321.3,416.1 384.4,423.2 447.5,427.2 510.5,433.1"/>
<polyline points="69.1,473.6 132.2,472.0 195.2,449.9 258.3,448.2 321.3,452.0 384.4,453.2 447.5,457.5 510.5,454.2"/>
<polyline points="69.1,460.5 132.2,448.8 195.2,425.0 258.3,413.8 321.3,405.2 384.4,417.0 447.5,407.2 510.5,412.7"/>
<polyline points="69.1,478.3 132.2,475.0 195.2,462.4 258.3,460.5 321.3,461.4 384.4,469.6 447.5,471.9 510.5,469.0"/>
<polyline points="69.1,481.6 132.2,484.5 195.2,466.2 258.3,476.4 321.3,480.9 384.4,487.1 447.5,484.2 510.5,481.1"/>
<polyline points="69.1,483.3 132.2,490.0 195.2,471.9 258.3,480.6 321.3,480.3 384.4,476.3 447.5,473.6 510.5,474.5"/>
<polyline points="69.1,472.9 132.2,474.3 195.2,461.0 258.3,462.9 321.3,457.3 384.4,455.6 447.5,456.1 510.5,457.2"/>
<polyline points="69.1,457.8 132.2,454.4 195.2,434.0 258.3,422.4 321.3,419.9 384.4,408.1 447.5,414.1 510.5,423.3"/>
<polyline points="69.1,473.8 132.2,474.1 195.2,460.9 258.3,456.4 321.3,469.4 384.4,469.6 447.5,469.0 510.5,456.0"/>
<polyline points="69.1,469.4 132.2,470.5 195.2,443.6 258.3,450.3 321.3,452.9 384.4,441.3 447.5,442.6 510.5,451.9"/>
<polyline points="69.1,456.9 132.2,450.1 195.2,424.7 258.3,416.1 321.3,423.5 384.4,404.5 447.5,418.3 510.5,415.4"/>
<polyline points="69.1,460.9 132.2,436.9 195.2,426.1 258.3,403.0 321.3,400.2 384.4,402.0 447.5,411.6 510.5,425.7"/>
<polyline points="69.1,469.4 132.2,465.4 195.2,442.1 258.3,429.7 321.3,449.3 384.4,442.9 447.5,437.4 510.5,449.5"/>
<polyline points="69.1,477.6 132.2,482.4 195.2,464.3 258.3,462.2 321.3,466.5 384.4,464.2 447.5,464.1 510.5,465.7"/>
<polyline points="69.1,464.4 132.2,455.2 195.2,436.2 258.3,438.2 321.3,429.1 384.4,436.4 447.5,440.7 510.5,439.0"/>
<polyline points="69.1,461.8 132.2,448.6 195.2,427.8 258.3,404.8 321.3,406.3 384.4,403.3 447.5,423.7 510.5,423.2"/>
<polyline points="69.1,470.4 132.2,471.2 195.2,448.0 258.3,443.2 321.3,450.4 384.4,454.2 447.5,452.1 510.5,450.6"/>
<polyline points="69.1,468.9 132.2,463.1 195.2,437.1 258.3,432.0 321.3,423.3 384.4,420.0 447.5,430.3 510.5,425.6"/>
<polyline points="69.1,467.5 132.2,471.1 195.2,448.7 258.3,446.1 321.3,440.4 384.4,446.3 447.5,453.2 510.5,451.0"/>
<polyline points="69.1,461.1 132.2,434.1 195.2,423.1 258.3,407.9 321.3,409.6 384.4,391.6 447.5,418.9 510.5,410.4"/>
<polyline points="69.1,474.8 132.2,472.8 195.2,454.6 258.3,459.3 321.3,463.6 384.4,455.6 447.5,470.1 510.5,464.2"/>
<polyline points="69.1,478.3 132.2,476.3 195.2,458.1 258.3,460.6 321.3,463.4 384.4,468.4 447.5,464.0 510.5,470.0"/>
<polyline points="69.1,466.7 132.2,468.4 195.2,445.2 258.3,438.2 321.3,432.0 384.4,446.2 447.5,436.9 510.5,449.5"/>
<polyline points="69.1,475.0 132.2,474.7 195.2,455.6 258.3,453.5 321.3,453.9 384.4,455.1 447.5,455.2 510.5,453.2"/>
<polyline points="69.1,485.8 132.2,482.4 195.2,476.1 258.3,469.5 321.3,475.8 384.4,476.1 447.5,490.2 510.5,476.7"/>
<polyline points="69.1,480.7 132.2,479.1 195.2,456.4 258.3,468.0 321.3,462.5 384.4,466.4 447.5,462.8 510.5,458.1"/>
<polyline points="69.1,478.0 132.2,478.4 195.2,463.2 258.3,465.6 321.3,462.5 384.4,468.2 447.5,463.3 510.5,461.4"/>
<polyline points="69.1,478.5 132.2,477.3 195.2,468.3 258.3,466.1 321.3,461.2 384.4,464.0 447.5,476.5 510.5,466.0"/>
<polyline points="69.1,484.3 132.2,487.6 195.2,466.7 258.3,467.3 321.3,481.0 384.4,482.3 447.5,471.4 510.5,467.0"/>
<polyline points="69.1,466.4 132.2,458.0 195.2,436.1 258.3,425.5 321.3,428.0 384.4,434.0 447.5,433.3 510.5,444.2"/>
<polyline points="69.1,472.6 132.2,472.1 195.2,452.6 258.3,448.4 321.3,450.9 384.4,459.9 447.5,451.1 510.5,450.5"/>
<polyline points="69.1,471.2 132.2,471.8 195.2,443.3 258.3,444.2 321.3,441.9 384.4,446.2 447.5,447.9 510.5,451.1"/>
<polyline points="69.1,483.3 132.2,484.3 195.2,476.3 258.3,482.4 321.3,473.7 384.4,486.3 447.5,476.9 510.5,469.3"/>
<polyline points="69.1,464.0 132.2,458.6 195.2,432.2 258.3,424.3 321.3,433.3 384.4,412.3 447.5,419.8 510.5,438.0"/>
<polyline points="69.1,467.8 132.2,461.3 195.2,436.3 258.3,427.6 321.3,436.7 384.4,423.5 447.5,437.4 510.5,437.5"/>
<polyline points="69.1,476.5 132.2,478.0 195.2,463.4 258.3,467.6 321.3,465.5 384.4,464.7 447.5,474.7 510.5,459.0"/>
<polyline points="69.1,472.4 132.2,471.5 195.2,450.1 258.3,452.0 321.3,455.0 384.4,461.2 447.5,457.7 510.5,452.6"/>
<polyline points="69.1,485.4 132.2,484.4 195.2,467.3 258.3,478.9 321.3,478.4 384.4,483.8 447.5,473.0 510.5,471.9"/>
<polyline points="69.1,461.6 132.2,457.7 195.2,437.7 258.3,427.3 321.3,426.4 384.4,433.8 447.5,427.7 510.5,421.9"/>
<polyline points="69.1,467.7 132.2,463.4 195.2,445.6 258.3,441.8 321.3,441.9 384.4,439.8 447.5,449.6 510.5,434.9"/>
<polyline points="69.1,461.9 132.2,443.1 195.2,434.4 258.3,430.9 321.3,428.4 384.4,426.5 447.5,425.9 510.5,428.2"/>
<polyline points="69.1,481.4 132.2,479.6 195.2,470.4 258.3,468.1 321.3,474.5 384.4,464.9 447.5,471.4 510.5,469.9"/>
<polyline points="69.1,471.8 132.2,471.1 195.2,441.4 258.3,450.4 321.3,452.9 384.4,451.8 447.5,448.1 510.5,446.7"/>
<polyline points="69.1,470.8 132.2,463.7 195.2,436.6 258.3,435.0 321.3,434.1 384.4,441.7 447.5,449.4 510.5,432.8"/>
<polyline points="69.1,478.4 132.2,479.8 195.2,463.8 258.3,455.0 321.3,460.1 384.4,462.4 447.5,465.4 510.5,455.3"/>
<polyline points="69.1,478.7 132.2,479.0 195.2,454.2 258.3,462.0 321.3,455.5 384.4,458.6 447.5,460.0 510.5,456.1"/>
<polyline points="69.1,475.5 132.2,470.8 195.2,452.3 258.3,446.4 321.3,452.9 384.4,453.4 447.5,458.4 510.5,456.5"/>
<polyline points="69.1,469.0 132.2,459.4 195.2,447.7 258.3,443.0 321.3,447.8 384.4,444.0 447.5,440.3 510.5,443.5"/>
<polyline points="69.1,484.9 132.2,485.7 195.2,466.0 258.3,474.3 321.3,477.1 384.4,486.6 447.5,486.8 510.5,472.4"/>
<polyline points="69.1,475.9 132.2,472.3 195.2,454.7 258.3,452.3 321.3,461.1 384.4,457.4 447.5,455.2 510.5,451.2"/>
<polyline points="69.1,459.5 132.2,448.8 195.2,431.1 258.3,418.8 321.3,407.2 384.4,398.4 447.5,425.2 510.5,410.2"/>
<polyline points="69.1,478.0 132.2,475.2 195.2,465.1 258.3,462.2 321.3,459.0 384.4,460.9 447.5,462.7 510.5,459.5"/>
<polyline points="69.1,473.5 132.2,470.0 195.2,453.7 258.3,447.4 321.3,446.5 384.4,455.3 447.5,453.2 510.5,450.2"/>
<polyline points="69.1,468.6 132.2,458.0 195.2,448.5 258.3,431.2 321.3,450.3 384.4,440.4 447.5,433.6 510.5,443.0"/>
<polyline points="69.1,461.8 132.2,458.2 195.2,437.5 258.3,424.9 321.3,427.0 384.4,427.5 447.5,435.9 510.5,426.7"/>
<polyline points="69.1,472.8 132.2,471.3 195.2,449.4 258.3,455.5 321.3,457.5 384.4,460.8 447.5,458.0 510.5,455.2"/>
<polyline points="69.1,465.0 132.2,453.6 195.2,440.6 258.3,424.0 321.3,424.9 384.4,418.7 447.5,437.8 510.5,426.7"/>
<polyline points="69.1,468.2 132.2,458.0 195.2,446.8 258.3,446.7 321.3,442.4 384.4,435.3 447.5,451.1 510.5,433.5"/>
<polyline points="69.1,466.4 132.2,453.9 195.2,440.8 258.3,437.3 321.3,445.8 384.4,448.4 447.5,433.6 510.5,437.1"/>
<polyline points="69.1,464.8 132.2,470.1 195.2,444.4 258.3,441.9 321.3,448.3 384.4,439.3 447.5,451.0 510.5,441.8"/>
<polyline points="69.1,463.9 132.2,457.0 195.2,445.9 258.3,423.8 321.3,432.7 384.4,422.5 447.5,446.7 510.5,443.2"/>
<polyline points="69.1,465.5 132.2,452.1 195.2,437.6 258.3,441.8 321.3,427.0 384.4,440.8 447.5,444.9 510.5,428.0"/>
<polyline points="69.1,470.8 132.2,470.9 195.2,447.1 258.3,453.2 321.3,454.6 384.4,445.1 447.5,447.2 510.5,444.4"/>
<polyline points="69.1,476.8 132.2,480.0 195.2,461.7 258.3,459.5 321.3,463.1 384.4,471.2 447.5,476.8 510.5,461.8"/>
<polyline points="69.1,470.5 132.2,464.7 195.2,441.0 258.3,431.6 321.3,430.8 384.4,435.3 447.5,445.9 510.5,446.9"/>
<polyline points="69.1,460.0 132.2,452.0 195.2,431.2 258.3,419.3 321.3,431.3 384.4,419.3 447.5,426.8 510.5,427.7"/>
<polyline points="69.1,472.0 132.2,462.0 195.2,447.0 258.3,446.0 321.3,440.8 384.4,440.1 447.5,446.1 510.5,451.0"/>
<polyline points="69.1,481.5 132.2,485.0 195.2,479.4 258.3,469.1 321.3,472.7 384.4,487.6 447.5,483.0 510.5,481.1"/>
<polyline points="69.1,462.3 132.2,455.4 195.2,444.1 258.3,439.7 321.3,426.8 384.4,430.2 447.5,426.3 510.5,435.1"/>
<polyline points="69.1,465.8 132.2,448.4 195.2,432.0 258.3,415.6 321.3,426.4 384.4,416.9 447.5,433.3 510.5,427.2"/>
<polyline points="69.1,477.6 132.2,477.8 195.2,453.7 258.3,462.8 321.3,464.9 384.4,456.0 447.5,458.3 510.5,455.5"/>
<polyline points="69.1,470.3 132.2,468.0 195.2,448.0 258.3,444.9 321.3,446.1 384.4,447.9 447.5,434.9 510.5,439.2"/>
<polyline points="69.1,462.4 132.2,456.2 195.2,435.6 258.3,417.0 321.3,428.4 384.4,423.9 447.5,420.5 510.5,431.0"/>
<polyline points="69.1,476.6 132.2,473.9 195.2,453.3 258.3,460.5 321.3,457.6 384.4,457.7 447.5,453.6 510.5,456.3"/>
<polyline points="69.1,478.3 132.2,480.6 195.2,466.3 258.3,459.4 321.3,456.7 384.4,460.2 447.5,466.9 510.5,463.6"/>
<polyline points="69.1,464.2 132.2,451.8 195.2,426.5 258.3,412.3 321.3,415.3 384.4,423.8 447.5,423.8 510.5,427.0"/>
<polyline points="69.1,476.0 132.2,475.9 195.2,460.0 258.3,455.8 321.3,458.1 384.4,458.4 447.5,458.5 510.5,467.9"/>
<polyline points="69.1,481.7 132.2,487.3 195.2,470.5 258.3,477.3 321.3,483.3 384.4,477.5 447.5,488.7 510.5,479.7"/>
<polyline points="69.1,467.1 132.2,469.3 195.2,446.2 258.3,440.1 321.3,450.6 384.4,444.3 447.5,449.0 510.5,438.3"/>
<polyline points="69.1,478.2 132.2,479.9 195.2,457.4 258.3,464.1 321.3,464.7 384.4,463.5 447.5,462.2 510.5,459.9"/>
<polyline points="69.1,464.7 132.2,453.4 195.2,439.1 258.3,433.7 321.3,422.5 384.4,425.2 447.5,431.2 510.5,423.0"/>
<polyline points="69.1,458.9 132.2,454.9 195.2,440.7 258.3,423.2 321.3,418.7 384.4,421.4 447.5,433.5 510.5,432.5"/>
<polyline points="69.1,455.0 132.2,400.0 195.2,442.0 258.3,430.0 321.3,420.0 384.4,418.0 447.5,425.0 510.5,430.0"/>
<polyline points="69.1,448.0 132.2,438.0 195.2,416.0 258.3,388.0 321.3,385.0 384.4,384.0 447.5,396.0 510.5,398.0"/>
</g>
<g fill="none" stroke="rgb(142,184,204)" stroke-opacity="0.72" stroke-width="0.75">
<polyline points="132.2,466.4 195.2,437.5 258.3,428.6 321.3,429.0 384.4,414.6 447.5,417.5 510.5,415.0"/>
<polyline points="132.2,485.9 195.2,473.0 258.3,464.3 321.3,457.7 384.4,459.4 447.5,456.9 510.5,456.6"/>
<polyline points="132.2,470.8 195.2,450.3 258.3,430.8 321.3,428.6 384.4,421.0 447.5,422.6 510.5,428.4"/>
<polyline points="132.2,460.8 195.2,433.5 258.3,419.6 321.3,421.3 384.4,401.8 447.5,409.1 510.5,413.8"/>
<polyline points="132.2,475.6 195.2,453.5 258.3,434.3 321.3,435.8 384.4,427.6 447.5,432.7 510.5,426.2"/>
<polyline points="132.2,466.6 195.2,447.5 258.3,427.9 321.3,427.1 384.4,415.4 447.5,421.7 510.5,424.5"/>
<polyline points="132.2,483.6 195.2,472.9 258.3,460.8 321.3,449.1 384.4,461.2 447.5,452.8 510.5,457.0"/>
<polyline points="132.2,475.4 195.2,456.0 258.3,440.0 321.3,435.6 384.4,435.2 447.5,433.0 510.5,436.5"/>
<polyline points="132.2,472.2 195.2,449.4 258.3,434.5 321.3,433.4 384.4,427.3 447.5,435.1 510.5,434.9"/>
<polyline points="132.2,467.4 195.2,443.2 258.3,430.5 321.3,419.1 384.4,415.2 447.5,422.2 510.5,418.0"/>
<polyline points="132.2,467.8 195.2,446.4 258.3,432.5 321.3,424.9 384.4,419.0 447.5,412.8 510.5,411.4"/>
<polyline points="132.2,469.5 195.2,444.6 258.3,429.5 321.3,420.6 384.4,407.3 447.5,419.7 510.5,416.9"/>
<polyline points="132.2,481.9 195.2,471.0 258.3,474.0 321.3,449.3 384.4,461.9 447.5,459.0 510.5,463.0"/>
<polyline points="132.2,471.6 195.2,448.8 258.3,438.8 321.3,435.7 384.4,430.4 447.5,425.9 510.5,429.6"/>
<polyline points="132.2,469.2 195.2,444.0 258.3,427.8 321.3,424.0 384.4,420.2 447.5,412.8 510.5,413.0"/>
<polyline points="132.2,481.8 195.2,462.7 258.3,457.3 321.3,448.9 384.4,446.2 447.5,440.2 510.5,450.8"/>
<polyline points="132.2,480.3 195.2,468.0 258.3,462.5 321.3,450.0 384.4,453.0 447.5,457.0 510.5,448.3"/>
<polyline points="132.2,480.5 195.2,458.3 258.3,447.9 321.3,440.1 384.4,446.2 447.5,441.7 510.5,445.9"/>
<polyline points="132.2,474.1 195.2,451.1 258.3,441.8 321.3,434.9 384.4,437.7 447.5,434.5 510.5,429.6"/>
<polyline points="132.2,469.7 195.2,448.5 258.3,434.3 321.3,427.7 384.4,412.1 447.5,412.9 510.5,423.9"/>
<polyline points="132.2,466.9 195.2,443.7 258.3,423.5 321.3,429.6 384.4,418.4 447.5,423.4 510.5,424.1"/>
<polyline points="132.2,484.0 195.2,473.0 258.3,468.8 321.3,451.5 384.4,458.2 447.5,449.9 510.5,450.5"/>
<polyline points="132.2,470.1 195.2,444.2 258.3,431.4 321.3,434.1 384.4,418.9 447.5,426.5 510.5,423.1"/>
<polyline points="132.2,484.7 195.2,476.4 258.3,461.1 321.3,459.6 384.4,453.2 447.5,466.7 510.5,457.6"/>
<polyline points="132.2,483.6 195.2,466.6 258.3,469.9 321.3,453.8 384.4,448.0 447.5,447.4 510.5,459.5"/>
<polyline points="132.2,474.3 195.2,449.4 258.3,441.4 321.3,429.0 384.4,434.7 447.5,425.8 510.5,428.6"/>
<polyline points="132.2,483.6 195.2,474.2 258.3,464.6 321.3,450.3 384.4,464.7 447.5,461.8 510.5,472.9"/>
<polyline points="132.2,485.6 195.2,466.0 258.3,458.5 321.3,450.0 384.4,453.8 447.5,463.3 510.5,464.8"/>
<polyline points="132.2,472.2 195.2,452.3 258.3,438.3 321.3,430.1 384.4,433.4 447.5,433.6 510.5,431.8"/>
<polyline points="132.2,477.3 195.2,455.7 258.3,442.1 321.3,441.2 384.4,443.0 447.5,444.0 510.5,434.4"/>
<polyline points="132.2,477.4 195.2,465.3 258.3,448.6 321.3,444.7 384.4,440.6 447.5,446.7 510.5,436.9"/>
<polyline points="132.2,477.4 195.2,462.6 258.3,458.6 321.3,445.2 384.4,449.2 447.5,440.6 510.5,441.8"/>
<polyline points="132.2,474.9 195.2,456.5 258.3,441.2 321.3,435.7 384.4,437.0 447.5,435.7 510.5,433.3"/>
<polyline points="132.2,477.2 195.2,460.2 258.3,453.7 321.3,442.5 384.4,440.9 447.5,441.7 510.5,436.5"/>
<polyline points="132.2,467.6 195.2,446.0 258.3,432.6 321.3,427.0 384.4,416.1 447.5,424.8 510.5,415.5"/>
<polyline points="132.2,476.0 195.2,456.0 258.3,440.5 321.3,437.0 384.4,437.1 447.5,431.0 510.5,432.4"/>
<polyline points="132.2,470.4 195.2,441.4 258.3,427.5 321.3,428.9 384.4,414.8 447.5,419.1 510.5,421.7"/>
<polyline points="132.2,468.9 195.2,446.7 258.3,426.2 321.3,430.5 384.4,427.4 447.5,424.7 510.5,417.4"/>
<polyline points="132.2,476.9 195.2,460.7 258.3,443.0 321.3,438.5 384.4,439.1 447.5,438.2 510.5,440.6"/>
<polyline points="132.2,476.4 195.2,454.2 258.3,442.0 321.3,438.8 384.4,433.4 447.5,438.8 510.5,434.9"/>
<polyline points="132.2,464.8 195.2,437.0 258.3,428.1 321.3,417.0 384.4,413.5 447.5,404.4 510.5,408.4"/>
<polyline points="132.2,485.8 195.2,474.5 258.3,470.5 321.3,463.1 384.4,453.2 447.5,459.5 510.5,466.6"/>
<polyline points="132.2,478.6 195.2,462.4 258.3,455.2 321.3,443.5 384.4,440.7 447.5,440.1 510.5,447.4"/>
<polyline points="132.2,464.4 195.2,438.3 258.3,421.1 321.3,417.5 384.4,410.4 447.5,417.1 510.5,411.1"/>
<polyline points="132.2,468.3 195.2,440.1 258.3,423.0 321.3,419.5 384.4,408.7 447.5,417.9 510.5,416.6"/>
<polyline points="132.2,477.9 195.2,463.5 258.3,442.9 321.3,443.7 384.4,443.8 447.5,437.7 510.5,439.4"/>
<polyline points="132.2,470.8 195.2,438.4 258.3,425.6 321.3,422.9 384.4,418.7 447.5,418.9 510.5,421.8"/>
<polyline points="132.2,479.1 195.2,461.0 258.3,451.5 321.3,435.8 384.4,441.2 447.5,434.1 510.5,438.3"/>
<polyline points="132.2,472.5 195.2,453.4 258.3,436.8 321.3,435.7 384.4,426.9 447.5,431.8 510.5,433.8"/>
<polyline points="132.2,485.8 195.2,478.1 258.3,464.5 321.3,455.5 384.4,462.2 447.5,467.8 510.5,468.8"/>
<polyline points="132.2,474.9 195.2,457.9 258.3,442.6 321.3,437.1 384.4,437.6 447.5,433.1 510.5,436.8"/>
<polyline points="132.2,473.4 195.2,446.3 258.3,429.3 321.3,427.1 384.4,424.0 447.5,423.2 510.5,417.2"/>
<polyline points="132.2,474.5 195.2,452.5 258.3,441.1 321.3,430.8 384.4,426.4 447.5,429.1 510.5,434.2"/>
<polyline points="132.2,485.5 195.2,479.1 258.3,470.3 321.3,456.5 384.4,456.0 447.5,461.6 510.5,459.0"/>
<polyline points="132.2,481.7 195.2,478.3 258.3,465.8 321.3,452.6 384.4,449.4 447.5,450.0 510.5,470.3"/>
<polyline points="132.2,474.2 195.2,447.3 258.3,438.6 321.3,432.0 384.4,427.8 447.5,423.0 510.5,429.8"/>
<polyline points="132.2,483.4 195.2,479.1 258.3,469.6 321.3,460.1 384.4,464.4 447.5,466.3 510.5,464.0"/>
<polyline points="132.2,468.2 195.2,442.9 258.3,434.1 321.3,424.6 384.4,428.1 447.5,423.9 510.5,419.0"/>
<polyline points="132.2,483.9 195.2,471.7 258.3,465.7 321.3,446.0 384.4,448.2 447.5,450.5 510.5,459.1"/>
<polyline points="132.2,468.6 195.2,448.4 258.3,435.2 321.3,430.8 384.4,422.4 447.5,425.2 510.5,417.8"/>
<polyline points="132.2,476.1 195.2,456.5 258.3,445.8 321.3,439.0 384.4,435.0 447.5,436.4 510.5,436.4"/>
<polyline points="132.2,477.3 195.2,464.9 258.3,457.2 321.3,441.9 384.4,439.6 447.5,437.8 510.5,441.2"/>
<polyline points="132.2,480.0 195.2,473.3 258.3,460.7 321.3,452.9 384.4,457.3 447.5,462.3 510.5,466.4"/>
<polyline points="132.2,483.0 195.2,471.4 258.3,458.6 321.3,447.8 384.4,449.4 447.5,448.9 510.5,453.1"/>
<polyline points="132.2,468.8 195.2,435.8 258.3,421.2 321.3,424.0 384.4,405.8 447.5,407.3 510.5,404.6"/>
<polyline points="132.2,478.3 195.2,459.0 258.3,455.4 321.3,444.5 384.4,440.7 447.5,439.5 510.5,440.4"/>
<polyline points="132.2,483.1 195.2,471.1 258.3,465.4 321.3,443.7 384.4,443.3 447.5,456.4 510.5,457.5"/>
<polyline points="132.2,474.2 195.2,455.6 258.3,447.5 321.3,437.4 384.4,433.6 447.5,435.7 510.5,440.6"/>
<polyline points="132.2,485.9 195.2,470.2 258.3,471.7 321.3,458.5 384.4,451.3 447.5,458.7 510.5,455.6"/>
<polyline points="132.2,478.6 195.2,458.9 258.3,444.6 321.3,440.0 384.4,438.0 447.5,433.1 510.5,435.2"/>
<polyline points="132.2,483.0 195.2,464.4 258.3,448.9 321.3,448.6 384.4,443.6 447.5,441.8 510.5,448.9"/>
<polyline points="132.2,474.9 195.2,460.2 258.3,447.4 321.3,439.1 384.4,442.0 447.5,431.2 510.5,440.4"/>
<polyline points="132.2,483.8 195.2,463.8 258.3,451.4 321.3,452.4 384.4,449.3 447.5,454.0 510.5,460.4"/>
<polyline points="132.2,468.0 195.2,449.0 258.3,428.4 321.3,427.7 384.4,424.6 447.5,418.7 510.5,421.9"/>
<polyline points="132.2,471.9 195.2,450.3 258.3,431.0 321.3,429.0 384.4,418.6 447.5,419.8 510.5,426.8"/>
<polyline points="132.2,465.5 195.2,435.4 258.3,426.1 321.3,421.3 384.4,418.4 447.5,416.7 510.5,407.2"/>
<polyline points="132.2,475.9 195.2,454.4 258.3,437.3 321.3,432.2 384.4,433.0 447.5,434.6 510.5,432.6"/>
<polyline points="132.2,480.8 195.2,465.5 258.3,466.8 321.3,446.9 384.4,449.3 447.5,448.2 510.5,452.7"/>
<polyline points="132.2,474.4 195.2,454.7 258.3,439.4 321.3,437.6 384.4,432.9 447.5,434.3 510.5,437.2"/>
<polyline points="132.2,471.3 195.2,446.9 258.3,434.8 321.3,429.2 384.4,415.6 447.5,420.3 510.5,416.1"/>
<polyline points="132.2,467.5 195.2,436.7 258.3,422.1 321.3,427.3 384.4,421.4 447.5,422.3 510.5,408.8"/>
<polyline points="132.2,485.0 195.2,474.6 258.3,464.4 321.3,451.3 384.4,453.2 447.5,448.8 510.5,464.5"/>
<polyline points="132.2,473.6 195.2,456.2 258.3,435.1 321.3,433.7 384.4,427.8 447.5,428.4 510.5,431.7"/>
<polyline points="132.2,475.7 195.2,458.5 258.3,445.2 321.3,433.6 384.4,431.7 447.5,433.0 510.5,430.9"/>
<polyline points="132.2,471.1 195.2,447.5 258.3,435.9 321.3,429.3 384.4,419.3 447.5,422.8 510.5,428.7"/>
<polyline points="132.2,479.8 195.2,465.5 258.3,448.5 321.3,445.7 384.4,439.1 447.5,441.2 510.5,444.2"/>
<polyline points="132.2,479.2 195.2,464.1 258.3,456.4 321.3,440.7 384.4,448.7 447.5,449.7 510.5,452.0"/>
<polyline points="132.2,476.5 195.2,453.0 258.3,441.7 321.3,440.5 384.4,439.4 447.5,434.4 510.5,431.4"/>
<polyline points="132.2,477.3 195.2,457.9 258.3,447.7 321.3,441.1 384.4,436.3 447.5,441.7 510.5,433.0"/>
<polyline points="132.2,484.8 195.2,469.5 258.3,458.5 321.3,457.2 384.4,456.5 447.5,463.5 510.5,467.8"/>
<polyline points="132.2,478.4 195.2,465.8 258.3,448.6 321.3,440.5 384.4,446.1 447.5,453.0 510.5,441.4"/>
<polyline points="132.2,478.1 195.2,466.2 258.3,447.3 321.3,442.0 384.4,438.1 447.5,448.6 510.5,445.3"/>
<polyline points="132.2,471.8 195.2,451.0 258.3,437.3 321.3,435.1 384.4,430.0 447.5,427.9 510.5,433.0"/>
<polyline points="132.2,473.7 195.2,456.1 258.3,442.5 321.3,437.1 384.4,436.4 447.5,436.7 510.5,435.0"/>
<polyline points="132.2,472.4 195.2,455.3 258.3,441.3 321.3,432.3 384.4,426.6 447.5,434.2 510.5,433.9"/>
<polyline points="132.2,470.0 195.2,430.0 258.3,393.0 321.3,420.0 384.4,415.0 447.5,412.0 510.5,410.0"/>
<polyline points="132.2,468.0 195.2,436.0 258.3,400.0 321.3,418.0 384.4,412.0 447.5,405.0 510.5,408.0"/>
<polyline points="132.2,475.0 195.2,450.0 258.3,425.0 321.3,414.0 384.4,386.0 447.5,400.0 510.5,405.0"/>
<polyline points="132.2,472.0 195.2,445.0 258.3,420.0 321.3,412.0 384.4,391.0 447.5,404.0 510.5,396.0"/>
<polyline points="132.2,480.0 195.2,480.0 258.3,484.0 321.3,463.0 384.4,470.0 447.5,472.0 510.5,476.0"/>
</g>
<path d="M69.1,475.73 L74.1,474.80 L79.0,473.87 L84.0,472.93 L88.9,471.99 L93.9,471.04 L98.9,470.10 L103.8,469.15 L108.8,468.21 L113.7,467.28 L118.7,466.36 L123.7,465.45 L128.6,464.55 L133.6,463.66 L138.5,462.80 L143.5,461.95 L148.5,461.12 L153.4,460.31 L158.4,459.53 L163.3,458.77 L168.3,458.03 L173.3,457.32 L178.2,456.63 L183.2,455.97 L188.1,455.33 L193.1,454.72 L198.1,454.14 L203.0,453.58 L208.0,453.04 L212.9,452.53 L217.9,452.04 L222.9,451.58 L227.8,451.14 L232.8,450.72 L237.7,450.33 L242.7,449.95 L247.7,449.60 L252.6,449.26 L257.6,448.95 L262.5,448.65 L267.5,448.37 L272.5,448.10 L277.4,447.85 L282.4,447.61 L287.3,447.39 L292.3,447.18 L297.2,446.99 L302.2,446.80 L307.2,446.63 L312.1,446.47 L317.1,446.32 L322.0,446.18 L327.0,446.04 L332.0,445.92 L336.9,445.80 L341.9,445.69 L346.8,445.59 L351.8,445.49 L356.8,445.40 L361.7,445.32 L366.7,445.24 L371.6,445.17 L376.6,445.10 L381.6,445.04 L386.5,444.98 L391.5,444.92 L396.4,444.87 L401.4,444.82 L406.4,444.78 L411.3,444.73 L416.3,444.69 L421.2,444.66 L426.2,444.62 L431.2,444.59 L436.1,444.56 L441.1,444.53 L446.0,444.51 L451.0,444.48 L456.0,444.46 L460.9,444.44 L465.9,444.42 L470.8,444.40 L475.8,444.38 L480.8,444.37 L485.7,444.35 L490.7,444.34 L495.6,444.32 L500.6,444.31 L505.6,444.30 L510.5,444.29" fill="none" stroke="#ad9235" stroke-width="1.1"/>
<path d="M132.2,478.60 L136.4,477.16 L140.7,475.71 L144.9,474.24 L149.2,472.76 L153.4,471.28 L157.7,469.81 L161.9,468.33 L166.2,466.87 L170.4,465.43 L174.7,464.00 L178.9,462.60 L183.2,461.22 L187.4,459.87 L191.7,458.56 L195.9,457.28 L200.2,456.04 L204.4,454.85 L208.7,453.69 L212.9,452.58 L217.2,451.51 L221.4,450.49 L225.7,449.51 L229.9,448.58 L234.2,447.69 L238.4,446.84 L242.7,446.04 L246.9,445.29 L251.2,444.57 L255.4,443.89 L259.7,443.26 L263.9,442.66 L268.2,442.09 L272.5,441.56 L276.7,441.07 L281.0,440.60 L285.2,440.16 L289.5,439.76 L293.7,439.38 L298.0,439.02 L302.2,438.69 L306.5,438.38 L310.7,438.09 L315.0,437.82 L319.2,437.57 L323.5,437.34 L327.7,437.13 L332.0,436.93 L336.2,436.74 L340.5,436.57 L344.7,436.41 L349.0,436.26 L353.2,436.12 L357.5,435.99 L361.7,435.88 L366.0,435.77 L370.2,435.66 L374.5,435.57 L378.7,435.48 L383.0,435.40 L387.2,435.33 L391.5,435.26 L395.7,435.19 L400.0,435.13 L404.2,435.08 L408.5,435.03 L412.7,434.98 L417.0,434.94 L421.2,434.90 L425.5,434.86 L429.7,434.83 L434.0,434.79 L438.2,434.77 L442.5,434.74 L446.8,434.71 L451.0,434.69 L455.3,434.67 L459.5,434.65 L463.8,434.63 L468.0,434.61 L472.3,434.60 L476.5,434.58 L480.8,434.57 L485.0,434.56 L489.3,434.55 L493.5,434.54 L497.8,434.53 L502.0,434.52 L506.3,434.51 L510.5,434.50" fill="none" stroke="#336592" stroke-width="1.1"/>
<line x1="207.7" y1="378.4" x2="207.7" y2="511.7" stroke="#777" stroke-width="1" stroke-dasharray="1.3 1.6"/>
<rect x="51.5" y="378.4" width="476.79999999999995" height="133.3" fill="none" stroke="#999" stroke-width="1.5"/>
<line x1="49.2" y1="506.9" x2="51.5" y2="506.9" stroke="#999" stroke-width="1"/>
<text transform="translate(41.3,506.9) rotate(-90)" text-anchor="middle" font-size="11" class="t">0</text>
<line x1="49.2" y1="487.9" x2="51.5" y2="487.9" stroke="#999" stroke-width="1"/>
<text transform="translate(41.3,487.9) rotate(-90)" text-anchor="middle" font-size="11" class="t">2</text>
<line x1="49.2" y1="468.9" x2="51.5" y2="468.9" stroke="#999" stroke-width="1"/>
<text transform="translate(41.3,468.9) rotate(-90)" text-anchor="middle" font-size="11" class="t">4</text>
<line x1="49.2" y1="449.9" x2="51.5" y2="449.9" stroke="#999" stroke-width="1"/>
<text transform="translate(41.3,449.9) rotate(-90)" text-anchor="middle" font-size="11" class="t">6</text>
<line x1="49.2" y1="430.9" x2="51.5" y2="430.9" stroke="#999" stroke-width="1"/>
<text transform="translate(41.3,430.9) rotate(-90)" text-anchor="middle" font-size="11" class="t">8</text>
<line x1="49.2" y1="411.9" x2="51.5" y2="411.9" stroke="#999" stroke-width="1"/>
<line x1="49.2" y1="392.9" x2="51.5" y2="392.9" stroke="#999" stroke-width="1"/>
<text transform="translate(41.3,392.9) rotate(-90)" text-anchor="middle" font-size="11" class="t">12</text>
<line x1="69.1" y1="511.7" x2="69.1" y2="513.5" stroke="#999" stroke-width="1"/>
<text x="69.1" y="525.1" text-anchor="middle" font-size="11" class="t">1</text>
<line x1="132.2" y1="511.7" x2="132.2" y2="513.5" stroke="#999" stroke-width="1"/>
<text x="132.2" y="525.1" text-anchor="middle" font-size="11" class="t">2</text>
<line x1="195.2" y1="511.7" x2="195.2" y2="513.5" stroke="#999" stroke-width="1"/>
<text x="195.2" y="525.1" text-anchor="middle" font-size="11" class="t">3</text>
<line x1="258.3" y1="511.7" x2="258.3" y2="513.5" stroke="#999" stroke-width="1"/>
<text x="258.3" y="525.1" text-anchor="middle" font-size="11" class="t">4</text>
<line x1="321.3" y1="511.7" x2="321.3" y2="513.5" stroke="#999" stroke-width="1"/>
<text x="321.3" y="525.1" text-anchor="middle" font-size="11" class="t">5</text>
<line x1="384.4" y1="511.7" x2="384.4" y2="513.5" stroke="#999" stroke-width="1"/>
<text x="384.4" y="525.1" text-anchor="middle" font-size="11" class="t">6</text>
<line x1="447.5" y1="511.7" x2="447.5" y2="513.5" stroke="#999" stroke-width="1"/>
<text x="447.5" y="525.1" text-anchor="middle" font-size="11" class="t">7</text>
<line x1="510.5" y1="511.7" x2="510.5" y2="513.5" stroke="#999" stroke-width="1"/>
<text x="510.5" y="525.1" text-anchor="middle" font-size="11" class="t">8</text>
<text x="289.9" y="542.6" text-anchor="middle" font-size="15.5" class="T">Time (week)</text>
<text x="69.5" y="406.2" font-size="11.2" font-weight="bold" class="t">C</text>
<text transform="translate(23.2,445.0) rotate(-90)" text-anchor="middle" font-size="15.5" class="T">Petiole length (mm)</text>
</svg></body></html>
